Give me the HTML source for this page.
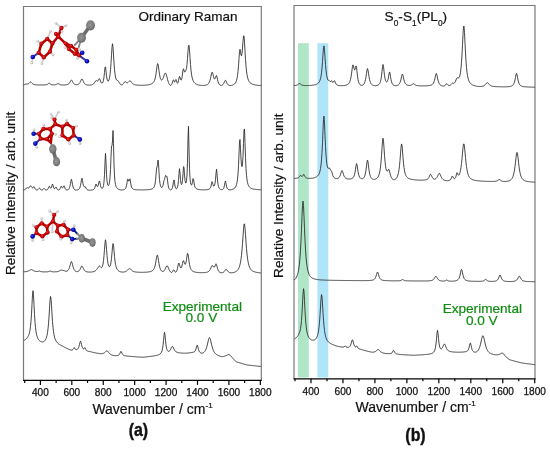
<!DOCTYPE html>
<html><head><meta charset="utf-8"><style>
html,body{margin:0;padding:0;background:#fff;width:550px;height:449px;overflow:hidden}
svg{display:block}
</style></head><body>
<svg width="550" height="449" viewBox="0 0 550 449">
<defs>
<radialGradient id="gR" cx="0.4" cy="0.38" r="0.65"><stop offset="0" stop-color="#e83434"/><stop offset="0.55" stop-color="#c80404"/><stop offset="1" stop-color="#960000"/></radialGradient>
<radialGradient id="gW" cx="0.4" cy="0.38" r="0.65"><stop offset="0" stop-color="#f4f4f4"/><stop offset="1" stop-color="#a8a8a8"/></radialGradient>
<radialGradient id="gB" cx="0.4" cy="0.38" r="0.65"><stop offset="0" stop-color="#3848f0"/><stop offset="0.55" stop-color="#0808c0"/><stop offset="1" stop-color="#000080"/></radialGradient>
<radialGradient id="gG" cx="0.45" cy="0.45" r="0.6"><stop offset="0" stop-color="#969696"/><stop offset="0.72" stop-color="#7a7a7a"/><stop offset="1" stop-color="#4a4a4a"/></radialGradient>
</defs>
<rect width="550" height="449" fill="#fff"/>
<!-- bands -->
<rect x="298" y="43.2" width="10.8" height="334.3" fill="#b0e6c8"/>
<rect x="317.4" y="43.2" width="10.9" height="334.3" fill="#b0e4f8"/>
<!-- frames -->
<path d="M23.5,380 V6.5 H261.3 V380" fill="none" stroke="#7a7a7a" stroke-width="1.2"/>
<path d="M294,378.8 V5.5 H535 V378.8" fill="none" stroke="#7a7a7a" stroke-width="1.2"/>
<line x1="23.0" y1="380.4" x2="261.8" y2="380.4" stroke="#000" stroke-width="1.35"/>
<line x1="24.69" y1="380.4" x2="24.69" y2="382.9" stroke="#000" stroke-width="1.2"/>
<line x1="40.40" y1="380.4" x2="40.40" y2="384.9" stroke="#000" stroke-width="1.2"/>
<line x1="56.11" y1="380.4" x2="56.11" y2="382.9" stroke="#000" stroke-width="1.2"/>
<line x1="71.82" y1="380.4" x2="71.82" y2="384.9" stroke="#000" stroke-width="1.2"/>
<line x1="87.53" y1="380.4" x2="87.53" y2="382.9" stroke="#000" stroke-width="1.2"/>
<line x1="103.24" y1="380.4" x2="103.24" y2="384.9" stroke="#000" stroke-width="1.2"/>
<line x1="118.95" y1="380.4" x2="118.95" y2="382.9" stroke="#000" stroke-width="1.2"/>
<line x1="134.66" y1="380.4" x2="134.66" y2="384.9" stroke="#000" stroke-width="1.2"/>
<line x1="150.37" y1="380.4" x2="150.37" y2="382.9" stroke="#000" stroke-width="1.2"/>
<line x1="166.08" y1="380.4" x2="166.08" y2="384.9" stroke="#000" stroke-width="1.2"/>
<line x1="181.79" y1="380.4" x2="181.79" y2="382.9" stroke="#000" stroke-width="1.2"/>
<line x1="197.50" y1="380.4" x2="197.50" y2="384.9" stroke="#000" stroke-width="1.2"/>
<line x1="213.21" y1="380.4" x2="213.21" y2="382.9" stroke="#000" stroke-width="1.2"/>
<line x1="228.92" y1="380.4" x2="228.92" y2="384.9" stroke="#000" stroke-width="1.2"/>
<line x1="244.63" y1="380.4" x2="244.63" y2="382.9" stroke="#000" stroke-width="1.2"/>
<line x1="260.34" y1="380.4" x2="260.34" y2="384.9" stroke="#000" stroke-width="1.2"/>
<line x1="293.5" y1="378.8" x2="535.5" y2="378.8" stroke="#000" stroke-width="1.35"/>
<line x1="295.02" y1="378.8" x2="295.02" y2="381.3" stroke="#000" stroke-width="1.2"/>
<line x1="311.00" y1="378.8" x2="311.00" y2="383.3" stroke="#000" stroke-width="1.2"/>
<line x1="326.98" y1="378.8" x2="326.98" y2="381.3" stroke="#000" stroke-width="1.2"/>
<line x1="342.96" y1="378.8" x2="342.96" y2="383.3" stroke="#000" stroke-width="1.2"/>
<line x1="358.94" y1="378.8" x2="358.94" y2="381.3" stroke="#000" stroke-width="1.2"/>
<line x1="374.92" y1="378.8" x2="374.92" y2="383.3" stroke="#000" stroke-width="1.2"/>
<line x1="390.90" y1="378.8" x2="390.90" y2="381.3" stroke="#000" stroke-width="1.2"/>
<line x1="406.88" y1="378.8" x2="406.88" y2="383.3" stroke="#000" stroke-width="1.2"/>
<line x1="422.86" y1="378.8" x2="422.86" y2="381.3" stroke="#000" stroke-width="1.2"/>
<line x1="438.84" y1="378.8" x2="438.84" y2="383.3" stroke="#000" stroke-width="1.2"/>
<line x1="454.82" y1="378.8" x2="454.82" y2="381.3" stroke="#000" stroke-width="1.2"/>
<line x1="470.80" y1="378.8" x2="470.80" y2="383.3" stroke="#000" stroke-width="1.2"/>
<line x1="486.78" y1="378.8" x2="486.78" y2="381.3" stroke="#000" stroke-width="1.2"/>
<line x1="502.76" y1="378.8" x2="502.76" y2="383.3" stroke="#000" stroke-width="1.2"/>
<line x1="518.74" y1="378.8" x2="518.74" y2="381.3" stroke="#000" stroke-width="1.2"/>
<line x1="534.72" y1="378.8" x2="534.72" y2="383.3" stroke="#000" stroke-width="1.2"/>
<g fill="none" stroke="#262626" stroke-width="0.85" stroke-linejoin="round">
<path d="M23.50,84.89 L24.00,84.78 L24.50,84.63 L25.00,84.42 L25.50,84.17 L26.00,84.00 L26.50,84.01 L27.00,84.08 L27.50,84.09 L28.00,83.97 L28.50,83.72 L29.00,83.33 L29.50,82.79 L30.00,82.23 L30.50,81.91 L31.00,82.07 L31.50,82.59 L32.00,83.18 L32.50,83.67 L33.00,84.04 L33.50,84.29 L34.00,84.48 L34.50,84.60 L35.00,84.69 L35.50,84.76 L36.00,84.81 L36.50,84.84 L37.00,84.87 L37.50,84.90 L38.00,84.91 L38.50,84.93 L39.00,84.94 L39.50,84.95 L40.00,84.95 L40.50,84.96 L41.00,84.96 L41.50,84.96 L42.00,84.96 L42.50,84.95 L43.00,84.94 L43.50,84.93 L44.00,84.91 L44.50,84.89 L45.00,84.86 L45.50,84.82 L46.00,84.75 L46.50,84.66 L47.00,84.50 L47.50,84.26 L48.00,83.90 L48.50,83.42 L49.00,83.04 L49.50,83.10 L50.00,83.54 L50.50,84.00 L51.00,84.35 L51.50,84.58 L52.00,84.72 L52.50,84.80 L53.00,84.85 L53.50,84.87 L54.00,84.87 L54.50,84.84 L55.00,84.78 L55.50,84.67 L56.00,84.52 L56.50,84.29 L57.00,84.00 L57.50,83.72 L58.00,83.61 L58.50,83.74 L59.00,84.03 L59.50,84.34 L60.00,84.58 L60.50,84.75 L61.00,84.86 L61.50,84.94 L62.00,84.99 L62.50,85.01 L63.00,85.03 L63.50,85.02 L64.00,85.01 L64.50,84.99 L65.00,84.96 L65.50,84.91 L66.00,84.85 L66.50,84.77 L67.00,84.66 L67.50,84.51 L68.00,84.31 L68.50,84.02 L69.00,83.59 L69.50,82.98 L70.00,82.15 L70.50,81.15 L71.00,80.28 L71.50,80.03 L72.00,80.61 L72.50,81.61 L73.00,82.58 L73.50,83.34 L74.00,83.88 L74.50,84.24 L75.00,84.49 L75.50,84.64 L76.00,84.72 L76.50,84.75 L77.00,84.72 L77.50,84.63 L78.00,84.47 L78.50,84.21 L79.00,83.83 L79.50,83.27 L80.00,82.48 L80.50,81.45 L81.00,80.24 L81.50,79.22 L82.00,78.94 L82.50,79.58 L83.00,80.73 L83.50,81.90 L84.00,82.86 L84.50,83.56 L85.00,84.07 L85.50,84.42 L86.00,84.67 L86.50,84.84 L87.00,84.96 L87.50,85.04 L88.00,85.09 L88.50,85.12 L89.00,85.12 L89.50,85.11 L90.00,85.08 L90.50,85.02 L91.00,84.94 L91.50,84.84 L92.00,84.69 L92.50,84.50 L93.00,84.23 L93.50,83.86 L94.00,83.35 L94.50,82.67 L95.00,81.83 L95.50,81.00 L96.00,80.53 L96.50,80.64 L97.00,81.00 L97.50,81.14 L98.00,80.77 L98.50,79.87 L99.00,78.83 L99.50,78.61 L100.00,79.65 L100.50,81.14 L101.00,82.33 L101.50,83.01 L102.00,83.19 L102.50,82.87 L103.00,81.96 L103.50,80.19 L104.00,77.09 L104.50,72.39 L105.00,67.57 L105.50,66.89 L106.00,71.08 L106.50,75.82 L107.00,79.01 L107.50,80.69 L108.00,81.24 L108.50,80.92 L109.00,79.79 L109.50,77.74 L110.00,74.52 L110.50,69.81 L111.00,63.28 L111.50,55.14 L112.00,47.28 L112.50,43.76 L113.00,47.16 L113.50,54.91 L114.00,62.94 L114.50,69.35 L115.00,73.92 L115.50,76.99 L116.00,78.91 L116.50,79.97 L117.00,80.39 L117.50,80.47 L118.00,80.66 L118.50,81.33 L119.00,82.28 L119.50,83.19 L120.00,83.90 L120.50,84.38 L121.00,84.68 L121.50,84.81 L122.00,84.78 L122.50,84.59 L123.00,84.21 L123.50,83.61 L124.00,82.82 L124.50,82.03 L125.00,81.58 L125.50,81.73 L126.00,82.21 L126.50,82.65 L127.00,82.85 L127.50,82.77 L128.00,82.45 L128.50,81.93 L129.00,81.34 L129.50,80.88 L130.00,80.76 L130.50,81.07 L131.00,81.67 L131.50,82.35 L132.00,82.97 L132.50,83.47 L133.00,83.87 L133.50,84.19 L134.00,84.43 L134.50,84.62 L135.00,84.77 L135.50,84.88 L136.00,84.97 L136.50,85.05 L137.00,85.11 L137.50,85.16 L138.00,85.20 L138.50,85.23 L139.00,85.26 L139.50,85.28 L140.00,85.29 L140.50,85.30 L141.00,85.30 L141.50,85.30 L142.00,85.30 L142.50,85.29 L143.00,85.27 L143.50,85.25 L144.00,85.23 L144.50,85.21 L145.00,85.17 L145.50,85.14 L146.00,85.10 L146.50,85.05 L147.00,85.00 L147.50,84.94 L148.00,84.87 L148.50,84.79 L149.00,84.69 L149.50,84.59 L150.00,84.46 L150.50,84.31 L151.00,84.13 L151.50,83.91 L152.00,83.64 L152.50,83.29 L153.00,82.86 L153.50,82.28 L154.00,81.51 L154.50,80.45 L155.00,78.98 L155.50,76.87 L156.00,73.94 L156.50,70.21 L157.00,66.28 L157.50,63.67 L158.00,63.98 L158.50,66.98 L159.00,70.89 L159.50,74.37 L160.00,76.96 L160.50,78.68 L161.00,79.68 L161.50,80.08 L162.00,79.98 L162.50,79.44 L163.00,78.49 L163.50,77.21 L164.00,75.74 L164.50,74.31 L165.00,73.30 L165.50,73.07 L166.00,73.79 L166.50,75.29 L167.00,77.23 L167.50,79.23 L168.00,81.05 L168.50,82.58 L169.00,83.77 L169.50,84.59 L170.00,85.13 L170.50,85.38 L171.00,85.27 L171.50,84.71 L172.00,83.60 L172.50,81.93 L173.00,80.24 L173.50,79.87 L174.00,80.94 L174.50,81.90 L175.00,81.70 L175.50,80.35 L176.00,79.46 L176.50,80.76 L177.00,82.59 L177.50,83.32 L178.00,82.71 L178.50,80.75 L179.00,78.03 L179.50,76.39 L180.00,77.27 L180.50,79.17 L181.00,80.21 L181.50,79.73 L182.00,77.58 L182.50,73.90 L183.00,70.03 L183.50,68.75 L184.00,70.39 L184.50,71.99 L185.00,71.89 L185.50,70.86 L186.00,70.08 L186.50,68.34 L187.00,64.44 L187.50,58.39 L188.00,51.24 L188.50,45.69 L189.00,45.14 L189.50,50.07 L190.00,57.49 L190.50,64.51 L191.00,70.06 L191.50,74.11 L192.00,76.97 L192.50,78.93 L193.00,80.35 L193.50,81.40 L194.00,82.20 L194.50,82.81 L195.00,83.30 L195.50,83.69 L196.00,84.01 L196.50,84.27 L197.00,84.49 L197.50,84.68 L198.00,84.83 L198.50,84.96 L199.00,85.08 L199.50,85.17 L200.00,85.25 L200.50,85.32 L201.00,85.37 L201.50,85.41 L202.00,85.44 L202.50,85.45 L203.00,85.46 L203.50,85.44 L204.00,85.41 L204.50,85.36 L205.00,85.30 L205.50,85.21 L206.00,85.09 L206.50,84.93 L207.00,84.73 L207.50,84.46 L208.00,84.09 L208.50,83.56 L209.00,82.82 L209.50,81.77 L210.00,80.32 L210.50,78.37 L211.00,75.97 L211.50,73.58 L212.00,72.19 L212.50,72.62 L213.00,74.45 L213.50,76.54 L214.00,78.13 L214.50,78.91 L215.00,78.78 L215.50,77.73 L216.00,76.17 L216.50,75.52 L217.00,76.98 L217.50,79.43 L218.00,81.56 L218.50,83.05 L219.00,84.03 L219.50,84.65 L220.00,85.05 L220.50,85.28 L221.00,85.38 L221.50,85.37 L222.00,85.23 L222.50,84.95 L223.00,84.49 L223.50,83.81 L224.00,82.85 L224.50,81.68 L225.00,80.64 L225.50,80.34 L226.00,80.99 L226.50,82.13 L227.00,83.22 L227.50,84.07 L228.00,84.66 L228.50,85.05 L229.00,85.30 L229.50,85.44 L230.00,85.51 L230.50,85.52 L231.00,85.49 L231.50,85.41 L232.00,85.29 L232.50,85.14 L233.00,84.93 L233.50,84.67 L234.00,84.35 L234.50,83.95 L235.00,83.43 L235.50,82.75 L236.00,81.80 L236.50,80.45 L237.00,78.52 L237.50,75.73 L238.00,71.65 L238.50,65.88 L239.00,58.52 L239.50,51.65 L240.00,49.28 L240.50,51.82 L241.00,55.03 L241.50,55.84 L242.00,53.48 L242.50,48.18 L243.00,41.25 L243.50,35.87 L244.00,35.96 L244.50,42.12 L245.00,50.99 L245.50,59.37 L246.00,66.05 L246.50,71.00 L247.00,74.58 L247.50,77.16 L248.00,79.02 L248.50,80.38 L249.00,81.38 L249.50,82.11 L250.00,82.66 L250.50,83.10 L251.00,83.45 L251.50,83.75 L252.00,83.99 L252.50,84.20 L253.00,84.38 L253.50,84.53 L254.00,84.66 L254.50,84.78 L255.00,84.88 L255.50,84.97 L256.00,85.06 L256.50,85.13 L257.00,85.20 L257.50,85.26 L258.00,85.32 L258.50,85.37 L259.00,85.42 L259.50,85.47 L260.00,85.52 L260.50,85.56 L261.00,85.60"/>
<path d="M23.50,190.00 L24.00,189.90 L24.50,189.75 L25.00,189.54 L25.50,189.20 L26.00,188.66 L26.50,187.97 L27.00,187.51 L27.50,187.67 L28.00,188.02 L28.50,188.10 L29.00,187.80 L29.50,187.14 L30.00,186.28 L30.50,185.73 L31.00,185.99 L31.50,186.79 L32.00,187.53 L32.50,187.87 L33.00,187.68 L33.50,186.97 L34.00,186.51 L34.50,187.36 L35.00,188.51 L35.50,189.27 L36.00,189.68 L36.50,189.89 L37.00,189.96 L37.50,189.89 L38.00,189.64 L38.50,189.10 L39.00,188.28 L39.50,187.95 L40.00,188.64 L40.50,189.40 L41.00,189.84 L41.50,190.02 L42.00,190.03 L42.50,189.85 L43.00,189.41 L43.50,188.70 L44.00,188.22 L44.50,188.69 L45.00,189.40 L45.50,189.82 L46.00,190.00 L46.50,190.01 L47.00,189.87 L47.50,189.54 L48.00,188.87 L48.50,187.72 L49.00,186.43 L49.50,186.48 L50.00,187.54 L50.50,188.17 L51.00,188.04 L51.50,187.06 L52.00,185.25 L52.50,184.02 L53.00,185.32 L53.50,187.22 L54.00,188.33 L54.50,188.69 L55.00,188.41 L55.50,187.58 L56.00,187.02 L56.50,187.81 L57.00,188.91 L57.50,189.60 L58.00,189.93 L58.50,190.02 L59.00,189.93 L59.50,189.60 L60.00,188.90 L60.50,187.65 L61.00,186.25 L61.50,186.29 L62.00,187.41 L62.50,187.99 L63.00,187.66 L63.50,186.51 L64.00,185.72 L64.50,186.77 L65.00,188.29 L65.50,189.24 L66.00,189.74 L66.50,189.96 L67.00,190.01 L67.50,189.94 L68.00,189.75 L68.50,189.40 L69.00,188.80 L69.50,187.79 L70.00,186.11 L70.50,183.49 L71.00,180.39 L71.50,179.29 L72.00,181.56 L72.50,184.63 L73.00,186.85 L73.50,188.22 L74.00,189.03 L74.50,189.51 L75.00,189.80 L75.50,189.97 L76.00,190.05 L76.50,190.07 L77.00,190.04 L77.50,189.95 L78.00,189.78 L78.50,189.51 L79.00,189.09 L79.50,188.42 L80.00,187.32 L80.50,185.52 L81.00,182.71 L81.50,179.40 L82.00,178.17 L82.50,180.49 L83.00,183.59 L83.50,185.68 L84.00,186.68 L84.50,186.77 L85.00,186.46 L85.50,186.93 L86.00,188.07 L86.50,188.95 L87.00,189.47 L87.50,189.77 L88.00,189.94 L88.50,190.05 L89.00,190.12 L89.50,190.16 L90.00,190.17 L90.50,190.17 L91.00,190.14 L91.50,190.09 L92.00,190.01 L92.50,189.90 L93.00,189.73 L93.50,189.48 L94.00,189.07 L94.50,188.38 L95.00,187.18 L95.50,185.32 L96.00,184.01 L96.50,184.93 L97.00,186.27 L97.50,186.65 L98.00,185.94 L98.50,184.14 L99.00,181.78 L99.50,180.99 L100.00,182.96 L100.50,185.50 L101.00,187.26 L101.50,188.19 L102.00,188.49 L102.50,188.26 L103.00,187.40 L103.50,185.58 L104.00,181.95 L104.50,174.78 L105.00,162.47 L105.50,153.41 L106.00,162.19 L106.50,174.19 L107.00,181.01 L107.50,184.20 L108.00,185.45 L108.50,185.51 L109.00,184.54 L109.50,182.23 L110.00,177.77 L110.50,169.62 L111.00,156.82 L111.50,146.01 L112.00,145.51 L112.50,141.01 L113.00,130.50 L113.50,143.77 L114.00,164.46 L114.50,175.97 L115.00,181.63 L115.50,184.61 L116.00,186.34 L116.50,187.42 L117.00,188.13 L117.50,188.64 L118.00,189.01 L118.50,189.29 L119.00,189.51 L119.50,189.67 L120.00,189.79 L120.50,189.87 L121.00,189.93 L121.50,189.95 L122.00,189.95 L122.50,189.92 L123.00,189.86 L123.50,189.75 L124.00,189.59 L124.50,189.35 L125.00,188.98 L125.50,188.39 L126.00,187.39 L126.50,185.62 L127.00,182.67 L127.50,179.32 L128.00,179.06 L128.50,180.91 L129.00,181.15 L129.50,179.43 L130.00,178.92 L130.50,181.88 L131.00,185.01 L131.50,186.94 L132.00,188.02 L132.50,188.64 L133.00,189.02 L133.50,189.26 L134.00,189.42 L134.50,189.54 L135.00,189.62 L135.50,189.69 L136.00,189.74 L136.50,189.78 L137.00,189.81 L137.50,189.83 L138.00,189.85 L138.50,189.87 L139.00,189.88 L139.50,189.88 L140.00,189.89 L140.50,189.89 L141.00,189.90 L141.50,189.90 L142.00,189.90 L142.50,189.89 L143.00,189.89 L143.50,189.88 L144.00,189.87 L144.50,189.86 L145.00,189.84 L145.50,189.82 L146.00,189.80 L146.50,189.78 L147.00,189.75 L147.50,189.72 L148.00,189.68 L148.50,189.64 L149.00,189.59 L149.50,189.53 L150.00,189.46 L150.50,189.37 L151.00,189.26 L151.50,189.12 L152.00,188.94 L152.50,188.70 L153.00,188.37 L153.50,187.91 L154.00,187.23 L154.50,186.15 L155.00,184.23 L155.50,180.80 L156.00,175.14 L156.50,169.00 L157.00,166.78 L157.50,164.47 L158.00,160.12 L158.50,163.19 L159.00,172.47 L159.50,179.55 L160.00,183.60 L160.50,185.80 L161.00,186.96 L161.50,187.50 L162.00,187.51 L162.50,186.93 L163.00,185.48 L163.50,182.94 L164.00,180.41 L164.50,179.35 L165.00,177.51 L165.50,175.51 L166.00,176.15 L166.50,176.33 L167.00,176.42 L167.50,180.09 L168.00,184.37 L168.50,187.08 L169.00,188.54 L169.50,189.31 L170.00,189.72 L170.50,189.87 L171.00,189.82 L171.50,189.51 L172.00,188.84 L172.50,187.51 L173.00,185.01 L173.50,181.42 L174.00,179.92 L174.50,182.80 L175.00,186.00 L175.50,187.83 L176.00,188.63 L176.50,188.74 L177.00,188.28 L177.50,187.14 L178.00,184.80 L178.50,180.34 L179.00,173.38 L179.50,168.72 L180.00,173.11 L180.50,179.66 L181.00,183.44 L181.50,184.64 L182.00,183.72 L182.50,180.39 L183.00,173.94 L183.50,166.63 L184.00,167.56 L184.50,174.96 L185.00,180.44 L185.50,182.86 L186.00,182.96 L186.50,180.78 L187.00,175.04 L187.50,162.13 L188.00,138.36 L188.50,126.31 L189.00,148.96 L189.50,168.65 L190.00,178.26 L190.50,182.66 L191.00,184.60 L191.50,185.05 L192.00,184.10 L192.50,181.56 L193.00,178.56 L193.50,179.19 L194.00,182.71 L194.50,185.44 L195.00,187.02 L195.50,187.92 L196.00,188.46 L196.50,188.81 L197.00,189.06 L197.50,189.24 L198.00,189.37 L198.50,189.48 L199.00,189.56 L199.50,189.63 L200.00,189.68 L200.50,189.73 L201.00,189.76 L201.50,189.79 L202.00,189.81 L202.50,189.83 L203.00,189.84 L203.50,189.85 L204.00,189.85 L204.50,189.84 L205.00,189.83 L205.50,189.81 L206.00,189.78 L206.50,189.74 L207.00,189.69 L207.50,189.62 L208.00,189.52 L208.50,189.39 L209.00,189.21 L209.50,188.93 L210.00,188.46 L210.50,187.64 L211.00,186.17 L211.50,183.78 L212.00,181.61 L212.50,182.43 L213.00,184.62 L213.50,185.93 L214.00,186.18 L214.50,185.47 L215.00,183.50 L215.50,179.57 L216.00,173.36 L216.50,169.30 L217.00,173.56 L217.50,179.99 L218.00,184.20 L218.50,186.55 L219.00,187.86 L219.50,188.64 L220.00,189.12 L220.50,189.42 L221.00,189.60 L221.50,189.68 L222.00,189.66 L222.50,189.52 L223.00,189.21 L223.50,188.59 L224.00,187.41 L224.50,185.27 L225.00,182.24 L225.50,180.99 L226.00,183.45 L226.50,186.23 L227.00,187.93 L227.50,188.84 L228.00,189.33 L228.50,189.60 L229.00,189.74 L229.50,189.81 L230.00,189.83 L230.50,189.80 L231.00,189.74 L231.50,189.64 L232.00,189.52 L232.50,189.36 L233.00,189.16 L233.50,188.91 L234.00,188.60 L234.50,188.21 L235.00,187.70 L235.50,187.00 L236.00,186.00 L236.50,184.57 L237.00,182.46 L237.50,179.19 L238.00,174.02 L238.50,165.83 L239.00,153.98 L239.50,141.82 L240.00,139.54 L240.50,148.78 L241.00,159.05 L241.50,165.11 L242.00,166.67 L242.50,163.89 L243.00,156.26 L243.50,143.47 L244.00,130.05 L244.50,128.95 L245.00,142.42 L245.50,157.64 L246.00,168.54 L246.50,175.45 L247.00,179.75 L247.50,182.51 L248.00,184.34 L248.50,185.59 L249.00,186.48 L249.50,187.10 L250.00,187.56 L250.50,187.92 L251.00,188.21 L251.50,188.44 L252.00,188.63 L252.50,188.79 L253.00,188.92 L253.50,189.04 L254.00,189.14 L254.50,189.22 L255.00,189.30 L255.50,189.36 L256.00,189.42 L256.50,189.47 L257.00,189.52 L257.50,189.57 L258.00,189.61 L258.50,189.65 L259.00,189.68 L259.50,189.71 L260.00,189.74 L260.50,189.77 L261.00,189.80"/>
<path d="M23.50,271.80 L24.00,271.77 L24.50,271.74 L25.00,271.71 L25.50,271.66 L26.00,271.61 L26.50,271.54 L27.00,271.45 L27.50,271.34 L28.00,271.18 L28.50,270.98 L29.00,270.74 L29.50,270.45 L30.00,270.13 L30.50,269.83 L31.00,269.64 L31.50,269.62 L32.00,269.78 L32.50,270.06 L33.00,270.38 L33.50,270.67 L34.00,270.93 L34.50,271.13 L35.00,271.29 L35.50,271.40 L36.00,271.49 L36.50,271.54 L37.00,271.55 L37.50,271.52 L38.00,271.43 L38.50,271.27 L39.00,271.07 L39.50,271.01 L40.00,271.19 L40.50,271.43 L41.00,271.60 L41.50,271.71 L42.00,271.78 L42.50,271.82 L43.00,271.85 L43.50,271.87 L44.00,271.88 L44.50,271.89 L45.00,271.89 L45.50,271.89 L46.00,271.88 L46.50,271.86 L47.00,271.83 L47.50,271.79 L48.00,271.71 L48.50,271.58 L49.00,271.39 L49.50,271.14 L50.00,271.00 L50.50,271.14 L51.00,271.39 L51.50,271.58 L52.00,271.71 L52.50,271.78 L53.00,271.82 L53.50,271.84 L54.00,271.85 L54.50,271.85 L55.00,271.83 L55.50,271.81 L56.00,271.78 L56.50,271.74 L57.00,271.69 L57.50,271.61 L58.00,271.51 L58.50,271.37 L59.00,271.18 L59.50,270.92 L60.00,270.61 L60.50,270.28 L61.00,270.04 L61.50,270.04 L62.00,270.22 L62.50,270.43 L63.00,270.53 L63.50,270.50 L64.00,270.52 L64.50,270.75 L65.00,271.04 L65.50,271.23 L66.00,271.28 L66.50,271.23 L67.00,271.07 L67.50,270.78 L68.00,270.33 L68.50,269.66 L69.00,268.71 L69.50,267.38 L70.00,265.64 L70.50,263.66 L71.00,262.01 L71.50,261.56 L72.00,262.65 L72.50,264.59 L73.00,266.57 L73.50,268.18 L74.00,269.38 L74.50,270.22 L75.00,270.80 L75.50,271.19 L76.00,271.44 L76.50,271.58 L77.00,271.62 L77.50,271.58 L78.00,271.45 L78.50,271.20 L79.00,270.82 L79.50,270.25 L80.00,269.46 L80.50,268.42 L81.00,267.23 L81.50,266.22 L82.00,265.93 L82.50,266.54 L83.00,267.66 L83.50,268.80 L84.00,269.73 L84.50,270.43 L85.00,270.93 L85.50,271.28 L86.00,271.52 L86.50,271.70 L87.00,271.83 L87.50,271.93 L88.00,271.99 L88.50,272.04 L89.00,272.07 L89.50,272.08 L90.00,272.08 L90.50,272.07 L91.00,272.04 L91.50,271.99 L92.00,271.94 L92.50,271.86 L93.00,271.77 L93.50,271.65 L94.00,271.50 L94.50,271.30 L95.00,271.03 L95.50,270.68 L96.00,270.21 L96.50,269.63 L97.00,269.02 L97.50,268.43 L98.00,267.74 L98.50,266.92 L99.00,266.19 L99.50,265.95 L100.00,266.34 L100.50,267.02 L101.00,267.56 L101.50,267.68 L102.00,267.27 L102.50,266.11 L103.00,264.01 L103.50,260.66 L104.00,255.74 L104.50,249.29 L105.00,242.77 L105.50,239.76 L106.00,242.68 L106.50,249.11 L107.00,255.47 L107.50,260.29 L108.00,263.53 L108.50,265.51 L109.00,266.52 L109.50,266.74 L110.00,266.18 L110.50,264.75 L111.00,262.22 L111.50,258.31 L112.00,252.95 L112.50,247.08 L113.00,243.55 L113.50,245.14 L114.00,250.51 L114.50,256.35 L115.00,261.00 L115.50,264.30 L116.00,266.53 L116.50,268.02 L117.00,269.07 L117.50,269.82 L118.00,270.39 L118.50,270.82 L119.00,271.15 L119.50,271.42 L120.00,271.62 L120.50,271.78 L121.00,271.90 L121.50,271.99 L122.00,272.04 L122.50,272.08 L123.00,272.08 L123.50,272.06 L124.00,272.01 L124.50,271.92 L125.00,271.79 L125.50,271.61 L126.00,271.38 L126.50,271.07 L127.00,270.68 L127.50,270.20 L128.00,269.66 L128.50,269.11 L129.00,268.68 L129.50,268.51 L130.00,268.66 L130.50,269.07 L131.00,269.59 L131.50,270.11 L132.00,270.57 L132.50,270.94 L133.00,271.24 L133.50,271.46 L134.00,271.63 L134.50,271.77 L135.00,271.88 L135.50,271.96 L136.00,272.03 L136.50,272.09 L137.00,272.14 L137.50,272.18 L138.00,272.21 L138.50,272.24 L139.00,272.26 L139.50,272.28 L140.00,272.29 L140.50,272.30 L141.00,272.31 L141.50,272.31 L142.00,272.31 L142.50,272.30 L143.00,272.30 L143.50,272.29 L144.00,272.27 L144.50,272.26 L145.00,272.24 L145.50,272.21 L146.00,272.18 L146.50,272.15 L147.00,272.11 L147.50,272.06 L148.00,272.01 L148.50,271.94 L149.00,271.87 L149.50,271.78 L150.00,271.67 L150.50,271.54 L151.00,271.38 L151.50,271.18 L152.00,270.93 L152.50,270.60 L153.00,270.17 L153.50,269.59 L154.00,268.77 L154.50,267.61 L155.00,265.97 L155.50,263.72 L156.00,260.85 L156.50,257.71 L157.00,255.37 L157.50,255.19 L158.00,257.34 L158.50,260.58 L159.00,263.70 L159.50,266.21 L160.00,268.07 L160.50,269.40 L161.00,270.33 L161.50,270.95 L162.00,271.32 L162.50,271.49 L163.00,271.47 L163.50,271.26 L164.00,270.85 L164.50,270.20 L165.00,269.33 L165.50,268.26 L166.00,267.11 L166.50,266.15 L167.00,265.72 L167.50,266.00 L168.00,266.92 L168.50,268.14 L169.00,269.39 L169.50,270.48 L170.00,271.35 L170.50,271.97 L171.00,272.36 L171.50,272.48 L172.00,272.30 L172.50,271.74 L173.00,270.78 L173.50,269.87 L174.00,269.99 L174.50,270.95 L175.00,271.79 L175.50,272.15 L176.00,272.03 L176.50,271.44 L177.00,270.24 L177.50,268.34 L178.00,265.82 L178.50,263.53 L179.00,263.01 L179.50,264.48 L180.00,266.39 L180.50,267.66 L181.00,267.99 L181.50,267.37 L182.00,265.80 L182.50,263.43 L183.00,261.17 L183.50,260.61 L184.00,261.94 L184.50,263.60 L185.00,264.42 L185.50,264.05 L186.00,262.43 L186.50,259.57 L187.00,256.00 L187.50,253.41 L188.00,253.90 L188.50,257.19 L189.00,261.13 L189.50,264.40 L190.00,266.75 L190.50,268.36 L191.00,269.41 L191.50,270.16 L192.00,270.69 L192.50,271.08 L193.00,271.38 L193.50,271.62 L194.00,271.81 L194.50,271.96 L195.00,272.08 L195.50,272.19 L196.00,272.27 L196.50,272.35 L197.00,272.41 L197.50,272.46 L198.00,272.51 L198.50,272.55 L199.00,272.58 L199.50,272.60 L200.00,272.63 L200.50,272.64 L201.00,272.65 L201.50,272.66 L202.00,272.65 L202.50,272.65 L203.00,272.64 L203.50,272.62 L204.00,272.59 L204.50,272.55 L205.00,272.51 L205.50,272.45 L206.00,272.38 L206.50,272.29 L207.00,272.17 L207.50,272.02 L208.00,271.82 L208.50,271.54 L209.00,271.15 L209.50,270.60 L210.00,269.84 L210.50,268.83 L211.00,267.59 L211.50,266.35 L212.00,265.57 L212.50,265.63 L213.00,266.31 L213.50,267.01 L214.00,267.31 L214.50,266.99 L215.00,266.00 L215.50,264.61 L216.00,263.79 L216.50,264.59 L217.00,266.52 L217.50,268.44 L218.00,269.91 L218.50,270.93 L219.00,271.61 L219.50,272.07 L220.00,272.38 L220.50,272.59 L221.00,272.71 L221.50,272.76 L222.00,272.74 L222.50,272.64 L223.00,272.46 L223.50,272.16 L224.00,271.74 L224.50,271.15 L225.00,270.43 L225.50,269.72 L226.00,269.33 L226.50,269.50 L227.00,270.11 L227.50,270.85 L228.00,271.48 L228.50,271.97 L229.00,272.31 L229.50,272.54 L230.00,272.68 L230.50,272.76 L231.00,272.79 L231.50,272.79 L232.00,272.76 L232.50,272.69 L233.00,272.61 L233.50,272.50 L234.00,272.36 L234.50,272.20 L235.00,272.01 L235.50,271.78 L236.00,271.51 L236.50,271.18 L237.00,270.80 L237.50,270.30 L238.00,269.66 L238.50,268.84 L239.00,267.77 L239.50,266.40 L240.00,264.61 L240.50,262.27 L241.00,259.21 L241.50,255.20 L242.00,250.05 L242.50,243.67 L243.00,236.35 L243.50,229.20 L244.00,224.31 L244.50,223.80 L245.00,227.90 L245.50,234.75 L246.00,242.12 L246.50,248.69 L247.00,254.04 L247.50,258.22 L248.00,261.42 L248.50,263.85 L249.00,265.70 L249.50,267.12 L250.00,268.20 L250.50,269.04 L251.00,269.69 L251.50,270.19 L252.00,270.58 L252.50,270.91 L253.00,271.19 L253.50,271.42 L254.00,271.63 L254.50,271.80 L255.00,271.96 L255.50,272.10 L256.00,272.22 L256.50,272.33 L257.00,272.43 L257.50,272.52 L258.00,272.61 L258.50,272.68 L259.00,272.75 L259.50,272.82 L260.00,272.88 L260.50,272.94 L261.00,273.00"/>
<path d="M24.00,340.50 L24.50,340.19 L25.00,339.84 L25.50,339.47 L26.00,339.05 L26.50,338.57 L27.00,338.02 L27.50,337.34 L28.00,336.49 L28.50,335.61 L29.00,334.39 L29.50,332.65 L30.00,330.15 L30.50,326.50 L31.00,321.21 L31.50,313.78 L32.00,304.29 L32.50,294.89 L33.00,290.70 L33.50,295.12 L34.00,304.76 L34.50,314.49 L35.00,322.15 L35.50,327.67 L36.00,331.55 L36.50,334.27 L37.00,336.23 L37.50,337.67 L38.00,338.75 L38.50,339.59 L39.00,340.24 L39.50,340.75 L40.00,341.14 L40.50,341.45 L41.00,341.67 L41.50,341.80 L42.00,341.87 L42.50,341.88 L43.00,341.82 L43.50,341.66 L44.00,341.40 L44.50,341.01 L45.00,340.46 L45.50,339.71 L46.00,338.68 L46.50,337.29 L47.00,335.36 L47.50,332.69 L48.00,328.97 L48.50,323.86 L49.00,317.09 L49.50,308.87 L50.00,300.83 L50.50,296.44 L51.00,298.46 L51.50,305.56 L52.00,314.06 L52.50,321.55 L53.00,327.36 L53.50,331.65 L54.00,334.76 L54.50,337.03 L55.00,338.70 L55.50,339.95 L56.00,340.91 L56.50,341.68 L57.00,342.34 L57.50,342.89 L58.00,343.36 L58.50,343.78 L59.00,344.16 L59.50,344.50 L60.00,344.82 L60.50,345.11 L61.00,345.39 L61.50,345.66 L62.00,345.91 L62.50,346.15 L63.00,346.38 L63.50,346.65 L64.00,346.92 L64.50,347.19 L65.00,347.45 L65.50,347.71 L66.00,347.96 L66.50,348.21 L67.00,348.45 L67.50,348.69 L68.00,348.92 L68.50,349.15 L69.00,349.37 L69.50,349.59 L70.00,349.79 L70.50,349.98 L71.00,350.12 L71.50,350.09 L72.00,350.01 L72.50,349.84 L73.00,349.44 L73.50,348.66 L74.00,347.65 L74.50,347.79 L75.00,348.77 L75.50,349.40 L76.00,349.65 L76.50,349.67 L77.00,349.52 L77.50,349.20 L78.00,348.65 L78.50,347.76 L79.00,346.38 L79.50,344.43 L80.00,342.26 L80.50,341.20 L81.00,342.29 L81.50,344.48 L82.00,346.43 L82.50,347.78 L83.00,348.57 L83.50,348.88 L84.00,348.64 L84.50,347.85 L85.00,347.58 L85.50,348.74 L86.00,349.84 L86.50,350.47 L87.00,350.82 L87.50,351.04 L88.00,351.20 L88.50,351.32 L89.00,351.42 L89.50,351.51 L90.00,351.58 L90.50,351.72 L91.00,351.84 L91.50,351.97 L92.00,352.09 L92.50,352.20 L93.00,352.32 L93.50,352.43 L94.00,352.53 L94.50,352.64 L95.00,352.74 L95.50,352.85 L96.00,352.94 L96.50,353.04 L97.00,353.13 L97.50,353.22 L98.00,353.31 L98.50,353.39 L99.00,353.47 L99.50,353.54 L100.00,353.60 L100.50,353.66 L101.00,353.70 L101.50,353.68 L102.00,353.63 L102.50,353.56 L103.00,353.44 L103.50,353.26 L104.00,353.02 L104.50,352.69 L105.00,352.28 L105.50,351.79 L106.00,351.28 L106.50,350.90 L107.00,350.80 L107.50,351.05 L108.00,351.57 L108.50,352.22 L109.00,352.85 L109.50,353.41 L110.00,353.88 L110.50,354.27 L111.00,354.58 L111.50,354.84 L112.00,355.05 L112.50,355.22 L113.00,355.37 L113.50,355.49 L114.00,355.59 L114.50,355.63 L115.00,355.65 L115.50,355.66 L116.00,355.66 L116.50,355.63 L117.00,355.58 L117.50,355.50 L118.00,355.37 L118.50,355.15 L119.00,354.79 L119.50,354.18 L120.00,353.22 L120.50,351.98 L121.00,351.30 L121.50,352.00 L122.00,353.26 L122.50,354.25 L123.00,354.88 L123.50,355.27 L124.00,355.51 L124.50,355.68 L125.00,355.79 L125.50,355.87 L126.00,355.94 L126.50,355.99 L127.00,356.04 L127.50,356.08 L128.00,356.11 L128.50,356.16 L129.00,356.21 L129.50,356.26 L130.00,356.31 L130.50,356.35 L131.00,356.39 L131.50,356.43 L132.00,356.48 L132.50,356.52 L133.00,356.56 L133.50,356.60 L134.00,356.63 L134.50,356.67 L135.00,356.71 L135.50,356.75 L136.00,356.79 L136.50,356.82 L137.00,356.86 L137.50,356.90 L138.00,356.93 L138.50,356.97 L139.00,357.00 L139.50,357.04 L140.00,357.07 L140.50,357.11 L141.00,357.14 L141.50,357.18 L142.00,357.21 L142.50,357.25 L143.00,357.28 L143.50,357.22 L144.00,357.16 L144.50,357.11 L145.00,357.05 L145.50,356.99 L146.00,356.93 L146.50,356.87 L147.00,356.82 L147.50,356.76 L148.00,356.70 L148.50,356.63 L149.00,356.57 L149.50,356.51 L150.00,356.45 L150.50,356.38 L151.00,356.32 L151.50,356.25 L152.00,356.18 L152.50,356.11 L153.00,356.04 L153.50,355.97 L154.00,355.89 L154.50,355.81 L155.00,355.72 L155.50,355.63 L156.00,355.54 L156.50,355.43 L157.00,355.31 L157.50,355.18 L158.00,355.03 L158.50,354.84 L159.00,354.62 L159.50,354.36 L160.00,354.03 L160.50,353.60 L161.00,353.02 L161.50,352.17 L162.00,350.86 L162.50,348.81 L163.00,345.60 L163.50,340.86 L164.00,335.26 L164.50,332.30 L165.00,335.05 L165.50,340.44 L166.00,344.95 L166.50,347.92 L167.00,349.72 L167.50,350.74 L168.00,351.26 L168.50,351.43 L169.00,351.32 L169.50,350.96 L170.00,350.34 L170.50,349.47 L171.00,348.40 L171.50,347.31 L172.00,346.55 L172.50,346.46 L173.00,347.09 L173.50,348.13 L174.00,349.22 L174.50,350.16 L175.00,350.88 L175.50,351.39 L176.00,351.76 L176.50,352.01 L177.00,352.24 L177.50,352.43 L178.00,352.58 L178.50,352.70 L179.00,352.79 L179.50,352.87 L180.00,352.94 L180.50,352.99 L181.00,353.04 L181.50,353.07 L182.00,353.11 L182.50,353.13 L183.00,353.15 L183.50,353.17 L184.00,353.18 L184.50,353.19 L185.00,353.20 L185.50,353.20 L186.00,353.20 L186.50,353.16 L187.00,353.12 L187.50,353.07 L188.00,353.02 L188.50,352.97 L189.00,352.91 L189.50,352.85 L190.00,352.78 L190.50,352.71 L191.00,352.62 L191.50,352.52 L192.00,352.41 L192.50,352.36 L193.00,352.29 L193.50,352.17 L194.00,351.97 L194.50,351.65 L195.00,351.11 L195.50,350.20 L196.00,348.76 L196.50,346.80 L197.00,345.17 L197.50,345.47 L198.00,347.43 L198.50,349.45 L199.00,350.91 L199.50,351.84 L200.00,352.43 L200.50,352.79 L201.00,353.00 L201.50,353.11 L202.00,353.14 L202.50,353.08 L203.00,352.92 L203.50,352.67 L204.00,352.31 L204.50,351.81 L205.00,351.14 L205.50,350.27 L206.00,349.16 L206.50,347.76 L207.00,346.04 L207.50,344.02 L208.00,341.82 L208.50,339.70 L209.00,338.10 L209.50,337.50 L210.00,338.13 L210.50,339.76 L211.00,341.93 L211.50,344.20 L212.00,346.29 L212.50,348.09 L213.00,349.59 L213.50,350.80 L214.00,351.78 L214.50,352.56 L215.00,353.20 L215.50,353.71 L216.00,354.12 L216.50,354.46 L217.00,354.74 L217.50,355.04 L218.00,355.31 L218.50,355.56 L219.00,355.78 L219.50,355.98 L220.00,356.16 L220.50,356.33 L221.00,356.47 L221.50,356.60 L222.00,356.71 L222.50,356.65 L223.00,356.57 L223.50,356.48 L224.00,356.35 L224.50,356.20 L225.00,356.01 L225.50,355.78 L226.00,355.49 L226.50,355.36 L227.00,355.17 L227.50,354.95 L228.00,354.72 L228.50,354.57 L229.00,354.58 L229.50,354.79 L230.00,355.18 L230.50,355.69 L231.00,356.22 L231.50,356.73 L232.00,357.19 L232.50,357.86 L233.00,358.49 L233.50,359.07 L234.00,359.62 L234.50,360.15 L235.00,360.67 L235.50,361.16 L236.00,361.65 L236.50,361.83 L237.00,362.00 L237.50,362.16 L238.00,362.32 L238.50,362.48 L239.00,362.64 L239.50,362.79 L240.00,362.94 L240.50,363.09 L241.00,363.23 L241.50,363.38 L242.00,363.52 L242.50,363.67 L243.00,363.81 L243.50,363.95 L244.00,364.10 L244.50,364.24 L245.00,364.38 L245.50,364.52 L246.00,364.66 L246.50,364.80 L247.00,364.94 L247.50,365.00 L248.00,365.05 L248.50,365.11 L249.00,365.16 L249.50,365.22 L250.00,365.28 L250.50,365.33 L251.00,365.39 L251.50,365.44 L252.00,365.50 L252.50,365.56 L253.00,365.61 L253.50,365.67 L254.00,365.72 L254.50,365.78 L255.00,365.83 L255.50,365.89 L256.00,365.95 L256.50,366.00 L257.00,366.06 L257.50,366.11 L258.00,366.17 L258.50,366.22 L259.00,366.28 L259.50,366.33 L260.00,366.39 L260.50,366.44 L261.00,366.50"/>
<path d="M294.00,85.60 L294.50,85.56 L295.00,85.51 L295.50,85.45 L296.00,85.36 L296.50,85.24 L297.00,85.07 L297.50,84.82 L298.00,84.49 L298.50,84.08 L299.00,83.68 L299.50,83.50 L300.00,83.68 L300.50,84.07 L301.00,84.48 L301.50,84.81 L302.00,85.05 L302.50,85.22 L303.00,85.34 L303.50,85.42 L304.00,85.48 L304.50,85.51 L305.00,85.54 L305.50,85.56 L306.00,85.57 L306.50,85.57 L307.00,85.57 L307.50,85.56 L308.00,85.55 L308.50,85.54 L309.00,85.52 L309.50,85.49 L310.00,85.46 L310.50,85.42 L311.00,85.38 L311.50,85.33 L312.00,85.28 L312.50,85.22 L313.00,85.15 L313.50,85.08 L314.00,84.99 L314.50,84.89 L315.00,84.77 L315.50,84.63 L316.00,84.46 L316.50,84.26 L317.00,84.02 L317.50,83.72 L318.00,83.35 L318.50,82.88 L319.00,82.27 L319.50,81.44 L320.00,80.28 L320.50,78.63 L321.00,76.27 L321.50,72.86 L322.00,68.07 L322.50,61.68 L323.00,54.18 L323.50,47.72 L324.00,45.85 L324.50,49.93 L325.00,57.18 L325.50,64.35 L326.00,70.06 L326.50,74.21 L327.00,77.07 L327.50,78.94 L328.00,80.00 L328.50,80.37 L329.00,80.42 L329.50,80.82 L330.00,81.41 L330.50,81.49 L331.00,80.96 L331.50,80.61 L332.00,81.32 L332.50,82.24 L333.00,82.52 L333.50,82.01 L334.00,80.99 L334.50,80.67 L335.00,81.74 L335.50,83.06 L336.00,83.99 L336.50,84.57 L337.00,84.94 L337.50,85.17 L338.00,85.33 L338.50,85.45 L339.00,85.53 L339.50,85.59 L340.00,85.64 L340.50,85.66 L341.00,85.68 L341.50,85.68 L342.00,85.67 L342.50,85.65 L343.00,85.62 L343.50,85.57 L344.00,85.52 L344.50,85.45 L345.00,85.36 L345.50,85.25 L346.00,85.12 L346.50,84.96 L347.00,84.76 L347.50,84.51 L348.00,84.18 L348.50,83.76 L349.00,83.17 L349.50,82.33 L350.00,81.15 L350.50,79.45 L351.00,77.06 L351.50,73.83 L352.00,69.91 L352.50,66.32 L353.00,64.85 L353.50,66.09 L354.00,68.41 L354.50,69.89 L355.00,69.60 L355.50,67.65 L356.00,65.90 L356.50,67.37 L357.00,71.74 L357.50,76.17 L358.00,79.46 L358.50,81.65 L359.00,83.09 L359.50,84.03 L360.00,84.65 L360.50,85.05 L361.00,85.29 L361.50,85.39 L362.00,85.37 L362.50,85.23 L363.00,84.94 L363.50,84.49 L364.00,83.83 L364.50,82.86 L365.00,81.46 L365.50,79.46 L366.00,76.72 L366.50,73.33 L367.00,70.06 L367.50,68.60 L368.00,70.02 L368.50,73.24 L369.00,76.60 L369.50,79.30 L370.00,81.26 L370.50,82.64 L371.00,83.60 L371.50,84.26 L372.00,84.72 L372.50,85.05 L373.00,85.29 L373.50,85.47 L374.00,85.60 L374.50,85.68 L375.00,85.73 L375.50,85.74 L376.00,85.71 L376.50,85.64 L377.00,85.53 L377.50,85.37 L378.00,85.15 L378.50,84.84 L379.00,84.40 L379.50,83.74 L380.00,82.76 L380.50,81.30 L381.00,79.10 L381.50,75.87 L382.00,71.48 L382.50,66.79 L383.00,64.50 L383.50,66.64 L384.00,71.17 L384.50,75.38 L385.00,78.39 L385.50,80.30 L386.00,81.40 L386.50,81.86 L387.00,81.76 L387.50,81.05 L388.00,79.55 L388.50,77.10 L389.00,73.99 L389.50,71.95 L390.00,73.11 L390.50,76.38 L391.00,79.51 L391.50,81.74 L392.00,83.21 L392.50,84.14 L393.00,84.73 L393.50,85.11 L394.00,85.37 L394.50,85.53 L395.00,85.64 L395.50,85.68 L396.00,85.68 L396.50,85.63 L397.00,85.53 L397.50,85.37 L398.00,85.13 L398.50,84.78 L399.00,84.29 L399.50,83.57 L400.00,82.55 L400.50,81.11 L401.00,79.16 L401.50,76.82 L402.00,74.76 L402.50,74.14 L403.00,75.44 L403.50,77.71 L404.00,79.90 L404.50,81.62 L405.00,82.85 L405.50,83.71 L406.00,84.30 L406.50,84.70 L407.00,84.98 L407.50,85.17 L408.00,85.30 L408.50,85.39 L409.00,85.44 L409.50,85.45 L410.00,85.41 L410.50,85.32 L411.00,85.17 L411.50,84.93 L412.00,84.60 L412.50,84.19 L413.00,83.82 L413.50,83.71 L414.00,83.95 L414.50,84.36 L415.00,84.76 L415.50,85.07 L416.00,85.29 L416.50,85.44 L417.00,85.56 L417.50,85.64 L418.00,85.70 L418.50,85.75 L419.00,85.79 L419.50,85.82 L420.00,85.84 L420.50,85.86 L421.00,85.88 L421.50,85.89 L422.00,85.89 L422.50,85.90 L423.00,85.90 L423.50,85.89 L424.00,85.89 L424.50,85.88 L425.00,85.87 L425.50,85.85 L426.00,85.83 L426.50,85.81 L427.00,85.78 L427.50,85.75 L428.00,85.71 L428.50,85.66 L429.00,85.59 L429.50,85.52 L430.00,85.43 L430.50,85.31 L431.00,85.16 L431.50,84.96 L432.00,84.69 L432.50,84.31 L433.00,83.77 L433.50,82.98 L434.00,81.86 L434.50,80.27 L435.00,78.14 L435.50,75.70 L436.00,73.78 L436.50,73.60 L437.00,75.33 L437.50,77.82 L438.00,80.11 L438.50,81.87 L439.00,83.14 L439.50,84.04 L440.00,84.67 L440.50,85.13 L441.00,85.46 L441.50,85.70 L442.00,85.86 L442.50,85.97 L443.00,86.03 L443.50,86.02 L444.00,85.95 L444.50,85.78 L445.00,85.48 L445.50,85.00 L446.00,84.34 L446.50,83.80 L447.00,83.84 L447.50,84.40 L448.00,84.97 L448.50,85.35 L449.00,85.52 L449.50,85.53 L450.00,85.39 L450.50,85.09 L451.00,84.64 L451.50,84.01 L452.00,83.37 L452.50,83.04 L453.00,83.14 L453.50,83.33 L454.00,83.31 L454.50,82.97 L455.00,82.30 L455.50,81.27 L456.00,79.98 L456.50,78.71 L457.00,77.89 L457.50,77.72 L458.00,77.94 L458.50,78.07 L459.00,77.77 L459.50,76.80 L460.00,75.01 L460.50,72.20 L461.00,68.07 L461.50,62.27 L462.00,54.48 L462.50,44.74 L463.00,34.38 L463.50,26.80 L464.00,26.04 L464.50,32.61 L465.00,42.83 L465.50,52.94 L466.00,61.26 L466.50,67.57 L467.00,72.21 L467.50,75.58 L468.00,78.03 L468.50,79.83 L469.00,81.14 L469.50,82.10 L470.00,82.84 L470.50,83.43 L471.00,83.92 L471.50,84.31 L472.00,84.65 L472.50,84.93 L473.00,85.17 L473.50,85.38 L474.00,85.56 L474.50,85.71 L475.00,85.85 L475.50,85.97 L476.00,86.08 L476.50,86.18 L477.00,86.26 L477.50,86.33 L478.00,86.39 L478.50,86.43 L479.00,86.46 L479.50,86.48 L480.00,86.49 L480.50,86.48 L481.00,86.45 L481.50,86.41 L482.00,86.34 L482.50,86.24 L483.00,86.11 L483.50,85.93 L484.00,85.68 L484.50,85.35 L485.00,84.93 L485.50,84.38 L486.00,83.75 L486.50,83.12 L487.00,82.69 L487.50,82.64 L488.00,83.00 L488.50,83.59 L489.00,84.22 L489.50,84.77 L490.00,85.21 L490.50,85.55 L491.00,85.80 L491.50,85.99 L492.00,86.13 L492.50,86.24 L493.00,86.33 L493.50,86.40 L494.00,86.46 L494.50,86.51 L495.00,86.55 L495.50,86.59 L496.00,86.62 L496.50,86.65 L497.00,86.67 L497.50,86.70 L498.00,86.72 L498.50,86.74 L499.00,86.75 L499.50,86.77 L500.00,86.78 L500.50,86.79 L501.00,86.80 L501.50,86.81 L502.00,86.82 L502.50,86.82 L503.00,86.83 L503.50,86.83 L504.00,86.83 L504.50,86.82 L505.00,86.82 L505.50,86.81 L506.00,86.80 L506.50,86.78 L507.00,86.76 L507.50,86.74 L508.00,86.71 L508.50,86.67 L509.00,86.63 L509.50,86.57 L510.00,86.49 L510.50,86.38 L511.00,86.23 L511.50,86.05 L512.00,85.80 L512.50,85.45 L513.00,84.98 L513.50,84.30 L514.00,83.32 L514.50,81.89 L515.00,79.86 L515.50,77.25 L516.00,74.61 L516.50,73.40 L517.00,74.61 L517.50,77.25 L518.00,79.87 L518.50,81.90 L519.00,83.33 L519.50,84.32 L520.00,85.00 L520.50,85.48 L521.00,85.82 L521.50,86.08 L522.00,86.27 L522.50,86.42 L523.00,86.53 L523.50,86.62 L524.00,86.69 L524.50,86.74 L525.00,86.79 L525.50,86.84 L526.00,86.87 L526.50,86.90 L527.00,86.93 L527.50,86.96 L528.00,86.98 L528.50,87.00 L529.00,87.02 L529.50,87.04 L530.00,87.06 L530.50,87.08 L531.00,87.09 L531.50,87.11 L532.00,87.12 L532.50,87.14 L533.00,87.15 L533.50,87.16 L534.00,87.18 L534.50,87.19 L535.00,87.20"/>
<path d="M294.00,178.40 L294.50,178.38 L295.00,178.35 L295.50,178.32 L296.00,178.28 L296.50,178.23 L297.00,178.16 L297.50,178.06 L298.00,177.92 L298.50,177.69 L299.00,177.31 L299.50,176.68 L300.00,175.84 L300.50,175.30 L301.00,175.63 L301.50,176.22 L302.00,176.46 L302.50,176.22 L303.00,175.50 L303.50,174.59 L304.00,174.55 L304.50,175.57 L305.00,176.62 L305.50,177.33 L306.00,177.75 L306.50,178.01 L307.00,178.17 L307.50,178.27 L308.00,178.33 L308.50,178.37 L309.00,178.39 L309.50,178.40 L310.00,178.39 L310.50,178.36 L311.00,178.33 L311.50,178.29 L312.00,178.23 L312.50,178.15 L313.00,178.06 L313.50,177.95 L314.00,177.82 L314.50,177.68 L315.00,177.51 L315.50,177.31 L316.00,177.08 L316.50,176.80 L317.00,176.46 L317.50,176.04 L318.00,175.52 L318.50,174.86 L319.00,173.97 L319.50,172.72 L320.00,170.97 L320.50,168.50 L321.00,164.97 L321.50,159.89 L322.00,152.62 L322.50,142.65 L323.00,130.43 L323.50,119.42 L324.00,116.12 L324.50,123.13 L325.00,135.16 L325.50,146.48 L326.00,155.07 L326.50,160.99 L327.00,164.82 L327.50,167.07 L328.00,168.10 L328.50,168.23 L329.00,167.94 L329.50,168.01 L330.00,168.88 L330.50,170.04 L331.00,170.76 L331.50,171.17 L332.00,172.39 L332.50,174.30 L333.00,175.85 L333.50,176.85 L334.00,177.50 L334.50,177.92 L335.00,178.21 L335.50,178.40 L336.00,178.51 L336.50,178.56 L337.00,178.54 L337.50,178.45 L338.00,178.28 L338.50,177.98 L339.00,177.53 L339.50,176.86 L340.00,175.88 L340.50,174.53 L341.00,172.85 L341.50,171.23 L342.00,170.51 L342.50,171.23 L343.00,172.85 L343.50,174.54 L344.00,175.90 L344.50,176.89 L345.00,177.58 L345.50,178.05 L346.00,178.38 L346.50,178.61 L347.00,178.77 L347.50,178.89 L348.00,178.97 L348.50,179.02 L349.00,179.03 L349.50,179.02 L350.00,178.98 L350.50,178.91 L351.00,178.80 L351.50,178.64 L352.00,178.43 L352.50,178.13 L353.00,177.71 L353.50,177.07 L354.00,176.11 L354.50,174.64 L355.00,172.43 L355.50,169.34 L356.00,165.79 L356.50,163.57 L357.00,164.64 L357.50,168.01 L358.00,171.45 L358.50,174.05 L359.00,175.83 L359.50,177.00 L360.00,177.76 L360.50,178.25 L361.00,178.55 L361.50,178.71 L362.00,178.75 L362.50,178.66 L363.00,178.45 L363.50,178.06 L364.00,177.45 L364.50,176.51 L365.00,175.09 L365.50,172.96 L366.00,169.90 L366.50,165.91 L367.00,161.87 L367.50,160.01 L368.00,161.86 L368.50,165.91 L369.00,169.93 L369.50,173.01 L370.00,175.18 L370.50,176.65 L371.00,177.65 L371.50,178.32 L372.00,178.78 L372.50,179.08 L373.00,179.27 L373.50,179.38 L374.00,179.40 L374.50,179.37 L375.00,179.27 L375.50,179.11 L376.00,178.89 L376.50,178.59 L377.00,178.20 L377.50,177.69 L378.00,177.01 L378.50,176.06 L379.00,174.76 L379.50,172.96 L380.00,170.45 L380.50,166.95 L381.00,162.14 L381.50,155.78 L382.00,148.22 L382.50,141.25 L383.00,138.21 L383.50,141.09 L384.00,147.89 L384.50,155.23 L385.00,161.31 L385.50,165.75 L386.00,168.71 L386.50,170.46 L387.00,171.18 L387.50,171.03 L388.00,170.23 L388.50,169.41 L389.00,169.55 L389.50,171.04 L390.00,173.19 L390.50,175.19 L391.00,176.75 L391.50,177.86 L392.00,178.61 L392.50,179.10 L393.00,179.43 L393.50,179.60 L394.00,179.65 L394.50,179.58 L395.00,179.40 L395.50,179.10 L396.00,178.67 L396.50,178.07 L397.00,177.25 L397.50,176.15 L398.00,174.64 L398.50,172.55 L399.00,169.66 L399.50,165.68 L400.00,160.38 L400.50,153.91 L401.00,147.51 L401.50,143.93 L402.00,145.45 L402.50,150.96 L403.00,157.51 L403.50,163.20 L404.00,167.56 L404.50,170.73 L405.00,173.00 L405.50,174.61 L406.00,175.77 L406.50,176.61 L407.00,177.23 L407.50,177.70 L408.00,178.06 L408.50,178.36 L409.00,178.60 L409.50,178.81 L410.00,178.98 L410.50,179.12 L411.00,179.24 L411.50,179.35 L412.00,179.45 L412.50,179.53 L413.00,179.60 L413.50,179.67 L414.00,179.73 L414.50,179.79 L415.00,179.84 L415.50,179.89 L416.00,179.93 L416.50,179.97 L417.00,180.01 L417.50,180.04 L418.00,180.07 L418.50,180.09 L419.00,180.12 L419.50,180.14 L420.00,180.15 L420.50,180.16 L421.00,180.17 L421.50,180.17 L422.00,180.16 L422.50,180.15 L423.00,180.14 L423.50,180.11 L424.00,180.08 L424.50,180.04 L425.00,179.97 L425.50,179.89 L426.00,179.78 L426.50,179.64 L427.00,179.43 L427.50,179.13 L428.00,178.72 L428.50,178.11 L429.00,177.24 L429.50,176.10 L430.00,174.92 L430.50,174.23 L431.00,174.54 L431.50,175.59 L432.00,176.78 L432.50,177.75 L433.00,178.44 L433.50,178.87 L434.00,179.10 L434.50,179.18 L435.00,179.11 L435.50,178.90 L436.00,178.53 L436.50,177.99 L437.00,177.25 L437.50,176.30 L438.00,175.21 L438.50,174.14 L439.00,173.42 L439.50,173.39 L440.00,174.07 L440.50,175.18 L441.00,176.37 L441.50,177.43 L442.00,178.30 L442.50,178.95 L443.00,179.44 L443.50,179.80 L444.00,180.07 L444.50,180.27 L445.00,180.43 L445.50,180.54 L446.00,180.62 L446.50,180.67 L447.00,180.69 L447.50,180.69 L448.00,180.65 L448.50,180.59 L449.00,180.48 L449.50,180.31 L450.00,180.05 L450.50,179.64 L451.00,178.96 L451.50,177.90 L452.00,176.57 L452.50,176.03 L453.00,176.90 L453.50,178.00 L454.00,178.63 L454.50,178.77 L455.00,178.46 L455.50,177.66 L456.00,176.16 L456.50,174.05 L457.00,172.62 L457.50,173.26 L458.00,174.54 L458.50,175.15 L459.00,174.95 L459.50,174.07 L460.00,172.55 L460.50,170.35 L461.00,167.36 L461.50,163.47 L462.00,158.64 L462.50,153.13 L463.00,147.79 L463.50,144.18 L464.00,143.82 L464.50,146.88 L465.00,152.01 L465.50,157.57 L466.00,162.54 L466.50,166.62 L467.00,169.81 L467.50,172.26 L468.00,174.12 L468.50,175.52 L469.00,176.59 L469.50,177.38 L470.00,177.97 L470.50,178.44 L471.00,178.83 L471.50,179.14 L472.00,179.41 L472.50,179.63 L473.00,179.82 L473.50,179.98 L474.00,180.12 L474.50,180.24 L475.00,180.35 L475.50,180.45 L476.00,180.53 L476.50,180.61 L477.00,180.68 L477.50,180.74 L478.00,180.79 L478.50,180.85 L479.00,180.90 L479.50,180.94 L480.00,180.98 L480.50,181.02 L481.00,181.06 L481.50,181.09 L482.00,181.12 L482.50,181.15 L483.00,181.18 L483.50,181.21 L484.00,181.23 L484.50,181.26 L485.00,181.28 L485.50,181.30 L486.00,181.32 L486.50,181.34 L487.00,181.36 L487.50,181.37 L488.00,181.39 L488.50,181.40 L489.00,181.41 L489.50,181.42 L490.00,181.43 L490.50,181.43 L491.00,181.44 L491.50,181.44 L492.00,181.43 L492.50,181.43 L493.00,181.42 L493.50,181.41 L494.00,181.39 L494.50,181.36 L495.00,181.31 L495.50,181.26 L496.00,181.17 L496.50,181.05 L497.00,180.88 L497.50,180.62 L498.00,180.28 L498.50,179.88 L499.00,179.56 L499.50,179.54 L500.00,179.83 L500.50,180.25 L501.00,180.63 L501.50,180.92 L502.00,181.12 L502.50,181.26 L503.00,181.36 L503.50,181.41 L504.00,181.45 L504.50,181.46 L505.00,181.45 L505.50,181.44 L506.00,181.40 L506.50,181.36 L507.00,181.29 L507.50,181.22 L508.00,181.12 L508.50,181.00 L509.00,180.85 L509.50,180.66 L510.00,180.43 L510.50,180.11 L511.00,179.70 L511.50,179.16 L512.00,178.47 L512.50,177.56 L513.00,176.36 L513.50,174.78 L514.00,172.69 L514.50,169.96 L515.00,166.47 L515.50,162.24 L516.00,157.70 L516.50,153.92 L517.00,152.40 L517.50,153.91 L518.00,157.68 L518.50,162.21 L519.00,166.43 L519.50,169.91 L520.00,172.64 L520.50,174.72 L521.00,176.29 L521.50,177.48 L522.00,178.38 L522.50,179.07 L523.00,179.60 L523.50,180.01 L524.00,180.33 L524.50,180.58 L525.00,180.78 L525.50,180.95 L526.00,181.10 L526.50,181.23 L527.00,181.34 L527.50,181.43 L528.00,181.52 L528.50,181.60 L529.00,181.67 L529.50,181.73 L530.00,181.79 L530.50,181.84 L531.00,181.89 L531.50,181.94 L532.00,181.98 L532.50,182.02 L533.00,182.06 L533.50,182.10 L534.00,182.13 L534.50,182.17 L535.00,182.20"/>
<path d="M294.00,280.20 L294.50,279.75 L295.00,279.25 L295.50,278.66 L296.00,277.96 L296.50,277.08 L297.00,275.95 L297.50,274.53 L298.00,272.69 L298.50,270.31 L299.00,267.19 L299.50,263.05 L300.00,257.55 L300.50,250.27 L301.00,240.82 L301.50,229.19 L302.00,216.43 L302.50,205.57 L303.00,201.10 L303.50,205.41 L304.00,216.11 L304.50,228.72 L305.00,240.20 L305.50,249.49 L306.00,256.63 L306.50,261.99 L307.00,265.99 L307.50,268.99 L308.00,271.26 L308.50,272.99 L309.00,274.31 L309.50,275.33 L310.00,276.11 L310.50,276.69 L311.00,277.17 L311.50,277.57 L312.00,277.90 L312.50,278.19 L313.00,278.43 L313.50,278.63 L314.00,278.81 L314.50,278.96 L315.00,279.10 L315.50,279.22 L316.00,279.32 L316.50,279.41 L317.00,279.49 L317.50,279.57 L318.00,279.63 L318.50,279.69 L319.00,279.74 L319.50,279.79 L320.00,279.84 L320.50,279.88 L321.00,279.91 L321.50,279.95 L322.00,279.98 L322.50,280.01 L323.00,280.03 L323.50,280.06 L324.00,280.08 L324.50,280.10 L325.00,280.12 L325.50,280.14 L326.00,280.16 L326.50,280.18 L327.00,280.19 L327.50,280.21 L328.00,280.22 L328.50,280.23 L329.00,280.24 L329.50,280.26 L330.00,280.27 L330.50,280.28 L331.00,280.29 L331.50,280.30 L332.00,280.31 L332.50,280.32 L333.00,280.33 L333.50,280.34 L334.00,280.34 L334.50,280.35 L335.00,280.36 L335.50,280.37 L336.00,280.37 L336.50,280.38 L337.00,280.39 L337.50,280.40 L338.00,280.40 L338.50,280.41 L339.00,280.41 L339.50,280.42 L340.00,280.43 L340.50,280.43 L341.00,280.44 L341.50,280.44 L342.00,280.45 L342.50,280.46 L343.00,280.46 L343.50,280.47 L344.00,280.47 L344.50,280.48 L345.00,280.48 L345.50,280.49 L346.00,280.49 L346.50,280.50 L347.00,280.51 L347.50,280.51 L348.00,280.52 L348.50,280.52 L349.00,280.53 L349.50,280.53 L350.00,280.54 L350.50,280.54 L351.00,280.55 L351.50,280.55 L352.00,280.55 L352.50,280.56 L353.00,280.56 L353.50,280.57 L354.00,280.57 L354.50,280.58 L355.00,280.58 L355.50,280.58 L356.00,280.59 L356.50,280.59 L357.00,280.59 L357.50,280.59 L358.00,280.60 L358.50,280.60 L359.00,280.60 L359.50,280.60 L360.00,280.60 L360.50,280.61 L361.00,280.61 L361.50,280.61 L362.00,280.61 L362.50,280.61 L363.00,280.61 L363.50,280.61 L364.00,280.60 L364.50,280.60 L365.00,280.60 L365.50,280.59 L366.00,280.59 L366.50,280.58 L367.00,280.57 L367.50,280.56 L368.00,280.55 L368.50,280.54 L369.00,280.52 L369.50,280.50 L370.00,280.47 L370.50,280.43 L371.00,280.38 L371.50,280.32 L372.00,280.24 L372.50,280.12 L373.00,279.97 L373.50,279.77 L374.00,279.48 L374.50,279.06 L375.00,278.46 L375.50,277.56 L376.00,276.28 L376.50,274.57 L377.00,272.82 L377.50,272.00 L378.00,272.82 L378.50,274.59 L379.00,276.29 L379.50,277.58 L380.00,278.48 L380.50,279.10 L381.00,279.52 L381.50,279.81 L382.00,280.02 L382.50,280.18 L383.00,280.30 L383.50,280.39 L384.00,280.46 L384.50,280.51 L385.00,280.56 L385.50,280.59 L386.00,280.62 L386.50,280.65 L387.00,280.67 L387.50,280.69 L388.00,280.71 L388.50,280.72 L389.00,280.73 L389.50,280.75 L390.00,280.76 L390.50,280.77 L391.00,280.78 L391.50,280.79 L392.00,280.80 L392.50,280.80 L393.00,280.81 L393.50,280.82 L394.00,280.82 L394.50,280.82 L395.00,280.83 L395.50,280.83 L396.00,280.83 L396.50,280.83 L397.00,280.82 L397.50,280.82 L398.00,280.81 L398.50,280.79 L399.00,280.77 L399.50,280.73 L400.00,280.68 L400.50,280.59 L401.00,280.44 L401.50,280.20 L402.00,279.85 L402.50,279.54 L403.00,279.58 L403.50,279.94 L404.00,280.27 L404.50,280.50 L405.00,280.63 L405.50,280.72 L406.00,280.77 L406.50,280.81 L407.00,280.84 L407.50,280.86 L408.00,280.87 L408.50,280.88 L409.00,280.89 L409.50,280.90 L410.00,280.91 L410.50,280.92 L411.00,280.92 L411.50,280.93 L412.00,280.93 L412.50,280.94 L413.00,280.94 L413.50,280.94 L414.00,280.95 L414.50,280.95 L415.00,280.95 L415.50,280.96 L416.00,280.96 L416.50,280.96 L417.00,280.96 L417.50,280.96 L418.00,280.96 L418.50,280.97 L419.00,280.97 L419.50,280.97 L420.00,280.97 L420.50,280.97 L421.00,280.97 L421.50,280.97 L422.00,280.97 L422.50,280.97 L423.00,280.96 L423.50,280.96 L424.00,280.96 L424.50,280.95 L425.00,280.95 L425.50,280.94 L426.00,280.93 L426.50,280.93 L427.00,280.91 L427.50,280.90 L428.00,280.88 L428.50,280.86 L429.00,280.83 L429.50,280.80 L430.00,280.76 L430.50,280.70 L431.00,280.62 L431.50,280.52 L432.00,280.37 L432.50,280.16 L433.00,279.87 L433.50,279.45 L434.00,278.87 L434.50,278.10 L435.00,277.20 L435.50,276.43 L436.00,276.22 L436.50,276.72 L437.00,277.61 L437.50,278.50 L438.00,279.22 L438.50,279.75 L439.00,280.14 L439.50,280.42 L440.00,280.62 L440.50,280.77 L441.00,280.87 L441.50,280.95 L442.00,281.01 L442.50,281.05 L443.00,281.07 L443.50,281.07 L444.00,281.05 L444.50,280.98 L445.00,280.86 L445.50,280.65 L446.00,280.33 L446.50,280.03 L447.00,280.08 L447.50,280.41 L448.00,280.72 L448.50,280.92 L449.00,281.04 L449.50,281.11 L450.00,281.15 L450.50,281.17 L451.00,281.18 L451.50,281.18 L452.00,281.17 L452.50,281.15 L453.00,281.13 L453.50,281.10 L454.00,281.05 L454.50,281.00 L455.00,280.93 L455.50,280.84 L456.00,280.71 L456.50,280.55 L457.00,280.34 L457.50,280.05 L458.00,279.64 L458.50,279.07 L459.00,278.22 L459.50,276.99 L460.00,275.21 L460.50,272.86 L461.00,270.43 L461.50,269.30 L462.00,270.43 L462.50,272.85 L463.00,275.19 L463.50,276.96 L464.00,278.20 L464.50,279.04 L465.00,279.61 L465.50,280.01 L466.00,280.30 L466.50,280.51 L467.00,280.68 L467.50,280.80 L468.00,280.89 L468.50,280.97 L469.00,281.03 L469.50,281.07 L470.00,281.11 L470.50,281.15 L471.00,281.18 L471.50,281.20 L472.00,281.22 L472.50,281.24 L473.00,281.26 L473.50,281.28 L474.00,281.29 L474.50,281.30 L475.00,281.31 L475.50,281.32 L476.00,281.33 L476.50,281.33 L477.00,281.34 L477.50,281.34 L478.00,281.34 L478.50,281.34 L479.00,281.34 L479.50,281.33 L480.00,281.32 L480.50,281.30 L481.00,281.28 L481.50,281.24 L482.00,281.20 L482.50,281.12 L483.00,281.01 L483.50,280.83 L484.00,280.56 L484.50,280.17 L485.00,279.70 L485.50,279.41 L486.00,279.55 L486.50,280.00 L487.00,280.45 L487.50,280.77 L488.00,280.99 L488.50,281.14 L489.00,281.23 L489.50,281.30 L490.00,281.34 L490.50,281.37 L491.00,281.39 L491.50,281.39 L492.00,281.39 L492.50,281.38 L493.00,281.37 L493.50,281.34 L494.00,281.30 L494.50,281.24 L495.00,281.16 L495.50,281.05 L496.00,280.89 L496.50,280.67 L497.00,280.36 L497.50,279.90 L498.00,279.22 L498.50,278.24 L499.00,276.95 L499.50,275.62 L500.00,275.00 L500.50,275.62 L501.00,276.96 L501.50,278.26 L502.00,279.24 L502.50,279.92 L503.00,280.38 L503.50,280.70 L504.00,280.93 L504.50,281.09 L505.00,281.20 L505.50,281.29 L506.00,281.36 L506.50,281.41 L507.00,281.45 L507.50,281.48 L508.00,281.51 L508.50,281.52 L509.00,281.53 L509.50,281.54 L510.00,281.54 L510.50,281.54 L511.00,281.53 L511.50,281.52 L512.00,281.49 L512.50,281.46 L513.00,281.42 L513.50,281.36 L514.00,281.28 L514.50,281.17 L515.00,281.04 L515.50,280.85 L516.00,280.59 L516.50,280.23 L517.00,279.72 L517.50,279.02 L518.00,278.13 L518.50,277.12 L519.00,276.35 L519.50,276.27 L520.00,276.93 L520.50,277.91 L521.00,278.84 L521.50,279.57 L522.00,280.10 L522.50,280.49 L523.00,280.76 L523.50,280.96 L524.00,281.10 L524.50,281.21 L525.00,281.29 L525.50,281.35 L526.00,281.40 L526.50,281.44 L527.00,281.48 L527.50,281.50 L528.00,281.53 L528.50,281.55 L529.00,281.57 L529.50,281.58 L530.00,281.60 L530.50,281.61 L531.00,281.62 L531.50,281.64 L532.00,281.65 L532.50,281.66 L533.00,281.67 L533.50,281.67 L534.00,281.68 L534.50,281.69 L535.00,281.70"/>
<path d="M294.50,339.00 L295.00,338.65 L295.50,338.27 L296.00,337.86 L296.50,337.41 L297.00,336.91 L297.50,336.33 L298.00,335.63 L298.50,334.77 L299.00,333.69 L299.50,332.56 L300.00,330.95 L300.50,328.63 L301.00,325.25 L301.50,320.32 L302.00,313.33 L302.50,304.14 L303.00,294.35 L303.50,288.66 L304.00,291.47 L304.50,300.60 L305.00,310.66 L305.50,318.85 L306.00,324.81 L306.50,329.02 L307.00,331.98 L307.50,334.10 L308.00,335.66 L308.50,336.83 L309.00,337.72 L309.50,338.40 L310.00,338.94 L310.50,339.35 L311.00,339.67 L311.50,339.89 L312.00,340.03 L312.50,340.12 L313.00,340.14 L313.50,340.10 L314.00,340.01 L314.50,339.82 L315.00,339.52 L315.50,339.16 L316.00,338.63 L316.50,337.91 L317.00,336.92 L317.50,335.55 L318.00,333.64 L318.50,330.98 L319.00,327.27 L319.50,322.16 L320.00,315.36 L320.50,307.10 L321.00,299.03 L321.50,294.63 L322.00,296.71 L322.50,303.93 L323.00,312.56 L323.50,320.16 L324.00,326.07 L324.50,330.45 L325.00,333.64 L325.50,335.97 L326.00,337.70 L326.50,339.01 L327.00,340.02 L327.50,340.82 L328.00,341.46 L328.50,341.98 L329.00,342.42 L329.50,342.81 L330.00,343.15 L330.50,343.46 L331.00,343.74 L331.50,344.00 L332.00,344.24 L332.50,344.47 L333.00,344.69 L333.50,344.89 L334.00,345.09 L334.50,345.28 L335.00,345.47 L335.50,345.64 L336.00,345.82 L336.50,345.99 L337.00,346.15 L337.50,346.30 L338.00,346.40 L338.50,346.50 L339.00,346.59 L339.50,346.68 L340.00,346.77 L340.50,346.85 L341.00,346.92 L341.50,346.99 L342.00,347.04 L342.50,347.08 L343.00,347.08 L343.50,347.04 L344.00,346.87 L344.50,346.49 L345.00,345.97 L345.50,346.09 L346.00,346.71 L346.50,347.11 L347.00,347.30 L347.50,347.37 L348.00,347.34 L348.50,347.24 L349.00,347.04 L349.50,346.71 L350.00,346.17 L350.50,345.31 L351.00,343.99 L351.50,342.16 L352.00,340.31 L352.50,339.75 L353.00,341.08 L353.50,343.10 L354.00,344.79 L354.50,345.93 L355.00,346.60 L355.50,346.85 L356.00,346.63 L356.50,346.02 L357.00,346.11 L357.50,347.16 L358.00,348.00 L358.50,348.48 L359.00,348.76 L359.50,348.96 L360.00,349.12 L360.50,349.25 L361.00,349.38 L361.50,349.55 L362.00,349.71 L362.50,349.86 L363.00,350.01 L363.50,350.16 L364.00,350.30 L364.50,350.44 L365.00,350.58 L365.50,350.71 L366.00,350.85 L366.50,350.98 L367.00,351.10 L367.50,351.23 L368.00,351.36 L368.50,351.48 L369.00,351.60 L369.50,351.71 L370.00,351.82 L370.50,351.93 L371.00,352.04 L371.50,352.13 L372.00,352.22 L372.50,352.20 L373.00,352.17 L373.50,352.11 L374.00,352.03 L374.50,351.90 L375.00,351.72 L375.50,351.47 L376.00,351.14 L376.50,350.72 L377.00,350.23 L377.50,349.77 L378.00,349.51 L378.50,349.59 L379.00,349.99 L379.50,350.55 L380.00,351.12 L380.50,351.62 L381.00,352.02 L381.50,352.34 L382.00,352.59 L382.50,352.80 L383.00,352.96 L383.50,353.10 L384.00,353.21 L384.50,353.30 L385.00,353.38 L385.50,353.45 L386.00,353.50 L386.50,353.55 L387.00,353.58 L387.50,353.62 L388.00,353.64 L388.50,353.66 L389.00,353.66 L389.50,353.65 L390.00,353.62 L390.50,353.56 L391.00,353.44 L391.50,353.22 L392.00,352.82 L392.50,352.12 L393.00,351.07 L393.50,350.23 L394.00,350.68 L394.50,351.85 L395.00,352.76 L395.50,353.33 L396.00,353.67 L396.50,353.88 L397.00,354.03 L397.50,354.14 L398.00,354.22 L398.50,354.30 L399.00,354.36 L399.50,354.41 L400.00,354.46 L400.50,354.51 L401.00,354.56 L401.50,354.59 L402.00,354.63 L402.50,354.66 L403.00,354.69 L403.50,354.72 L404.00,354.75 L404.50,354.78 L405.00,354.81 L405.50,354.84 L406.00,354.87 L406.50,354.90 L407.00,354.92 L407.50,354.95 L408.00,354.98 L408.50,355.00 L409.00,355.03 L409.50,355.06 L410.00,355.08 L410.50,355.11 L411.00,355.13 L411.50,355.16 L412.00,355.18 L412.50,355.21 L413.00,355.23 L413.50,355.26 L414.00,355.28 L414.50,355.25 L415.00,355.22 L415.50,355.20 L416.00,355.17 L416.50,355.14 L417.00,355.11 L417.50,355.08 L418.00,355.05 L418.50,355.02 L419.00,354.99 L419.50,354.96 L420.00,354.93 L420.50,354.90 L421.00,354.86 L421.50,354.83 L422.00,354.80 L422.50,354.76 L423.00,354.73 L423.50,354.69 L424.00,354.65 L424.50,354.62 L425.00,354.58 L425.50,354.53 L426.00,354.49 L426.50,354.44 L427.00,354.39 L427.50,354.34 L428.00,354.28 L428.50,354.21 L429.00,354.14 L429.50,354.06 L430.00,353.97 L430.50,353.86 L431.00,353.73 L431.50,353.58 L432.00,353.40 L432.50,353.12 L433.00,352.78 L433.50,352.34 L434.00,351.74 L434.50,350.84 L435.00,349.47 L435.50,347.34 L436.00,344.03 L436.50,339.14 L437.00,333.37 L437.50,330.30 L438.00,333.08 L438.50,338.55 L439.00,343.10 L439.50,346.06 L440.00,347.77 L440.50,348.66 L441.00,348.96 L441.50,348.84 L442.00,348.35 L442.50,347.51 L443.00,346.40 L443.50,345.19 L444.00,344.26 L444.50,344.03 L445.00,344.65 L445.50,345.83 L446.00,347.14 L446.50,348.31 L447.00,349.24 L447.50,349.94 L448.00,350.43 L448.50,350.76 L449.00,351.00 L449.50,351.24 L450.00,351.42 L450.50,351.56 L451.00,351.68 L451.50,351.78 L452.00,351.85 L452.50,351.92 L453.00,351.98 L453.50,352.02 L454.00,352.06 L454.50,352.09 L455.00,352.12 L455.50,352.14 L456.00,352.16 L456.50,352.18 L457.00,352.19 L457.50,352.20 L458.00,352.20 L458.50,352.20 L459.00,352.20 L459.50,352.19 L460.00,352.18 L460.50,352.17 L461.00,352.15 L461.50,352.13 L462.00,352.10 L462.50,352.07 L463.00,352.03 L463.50,351.99 L464.00,351.93 L464.50,351.86 L465.00,351.77 L465.50,351.70 L466.00,351.59 L466.50,351.43 L467.00,351.20 L467.50,350.83 L468.00,350.24 L468.50,349.26 L469.00,347.70 L469.50,345.49 L470.00,343.36 L470.50,343.14 L471.00,345.15 L471.50,347.54 L472.00,349.32 L472.50,350.48 L473.00,351.20 L473.50,351.66 L474.00,351.93 L474.50,352.09 L475.00,352.15 L475.50,352.14 L476.00,352.03 L476.50,351.84 L477.00,351.54 L477.50,351.12 L478.00,350.55 L478.50,349.80 L479.00,348.83 L479.50,347.60 L480.00,346.06 L480.50,344.19 L481.00,342.02 L481.50,339.69 L482.00,337.52 L482.50,336.01 L483.00,335.63 L483.50,336.50 L484.00,338.34 L484.50,340.64 L485.00,342.97 L485.50,345.07 L486.00,346.86 L486.50,348.34 L487.00,349.54 L487.50,350.50 L488.00,351.26 L488.50,351.88 L489.00,352.38 L489.50,352.78 L490.00,353.10 L490.50,353.37 L491.00,353.61 L491.50,353.81 L492.00,354.00 L492.50,354.17 L493.00,354.32 L493.50,354.44 L494.00,354.55 L494.50,354.64 L495.00,354.71 L495.50,354.76 L496.00,354.80 L496.50,354.81 L497.00,354.81 L497.50,354.78 L498.00,354.73 L498.50,354.63 L499.00,354.50 L499.50,354.31 L500.00,354.06 L500.50,353.76 L501.00,353.40 L501.50,353.22 L502.00,353.09 L502.50,353.10 L503.00,353.32 L503.50,353.76 L504.00,354.37 L504.50,355.03 L505.00,355.69 L505.50,356.31 L506.00,356.86 L506.50,357.36 L507.00,357.80 L507.50,358.20 L508.00,358.58 L508.50,358.93 L509.00,359.27 L509.50,359.59 L510.00,359.82 L510.50,359.98 L511.00,360.13 L511.50,360.28 L512.00,360.42 L512.50,360.56 L513.00,360.70 L513.50,360.83 L514.00,360.97 L514.50,361.10 L515.00,361.23 L515.50,361.36 L516.00,361.48 L516.50,361.61 L517.00,361.74 L517.50,361.86 L518.00,361.99 L518.50,362.11 L519.00,362.24 L519.50,362.36 L520.00,362.48 L520.50,362.60 L521.00,362.73 L521.50,362.85 L522.00,362.97 L522.50,363.07 L523.00,363.14 L523.50,363.20 L524.00,363.27 L524.50,363.33 L525.00,363.40 L525.50,363.46 L526.00,363.53 L526.50,363.59 L527.00,363.66 L527.50,363.73 L528.00,363.79 L528.50,363.86 L529.00,363.92 L529.50,363.99 L530.00,364.05 L530.50,364.12 L531.00,364.18 L531.50,364.25 L532.00,364.31 L532.50,364.38 L533.00,364.44 L533.50,364.51 L534.00,364.57 L534.50,364.64 L535.00,364.70"/>
</g>
<line x1="90.5" y1="25.3" x2="81.5" y2="37.7" stroke="#6e6e6e" stroke-width="3.6" stroke-linecap="round"/>
<line x1="81.5" y1="37.7" x2="74.8" y2="45.0" stroke="#858585" stroke-width="1.9" stroke-linecap="round"/>
<line x1="81.5" y1="37.7" x2="78.6" y2="47.5" stroke="#858585" stroke-width="1.9" stroke-linecap="round"/>
<line x1="32.8" y1="57" x2="31.7" y2="62.9" stroke="#c8c8c8" stroke-width="1.5" stroke-linecap="round"/>
<line x1="41.4" y1="43.7" x2="37.6" y2="41" stroke="#c8c8c8" stroke-width="1.5" stroke-linecap="round"/>
<line x1="47.3" y1="38.9" x2="50.5" y2="31.4" stroke="#c8c8c8" stroke-width="1.5" stroke-linecap="round"/>
<line x1="49.9" y1="51.7" x2="53.1" y2="54.9" stroke="#c8c8c8" stroke-width="1.5" stroke-linecap="round"/>
<line x1="43.8" y1="57.4" x2="41.9" y2="63.5" stroke="#c8c8c8" stroke-width="1.5" stroke-linecap="round"/>
<line x1="61.4" y1="28.0" x2="56" y2="23.3" stroke="#c8c8c8" stroke-width="1.5" stroke-linecap="round"/>
<line x1="61.4" y1="28.0" x2="66" y2="25.5" stroke="#c8c8c8" stroke-width="1.5" stroke-linecap="round"/>
<line x1="38.7" y1="52.8" x2="32.8" y2="57" stroke="#3030a0" stroke-width="2.0" stroke-linecap="round"/>
<line x1="79" y1="55.4" x2="82.2" y2="52.7" stroke="#3030a0" stroke-width="2.0" stroke-linecap="round"/>
<line x1="79" y1="55.4" x2="87" y2="61.3" stroke="#3030a0" stroke-width="2.0" stroke-linecap="round"/>
<line x1="52.4" y1="43.5" x2="58.2" y2="36.5" stroke="#b80000" stroke-width="2.5" stroke-linecap="round"/>
<line x1="58.2" y1="36.5" x2="61.4" y2="28.0" stroke="#b80000" stroke-width="2.5" stroke-linecap="round"/>
<line x1="58.2" y1="36.5" x2="65.7" y2="43.6" stroke="#b80000" stroke-width="2.5" stroke-linecap="round"/>
<line x1="58.2" y1="36.5" x2="56.0" y2="34.0" stroke="#b80000" stroke-width="2.5" stroke-linecap="round"/>
<path d="M47.3,38.9 L52.4,43.5 L49.9,51.7 L43.8,57.4 L38.7,52.8 L41.4,43.7 Z" fill="none" stroke="#b80000" stroke-width="2.6" stroke-linejoin="round"/>
<path d="M65.7,43.6 L71,45.8 L76.4,50 L79,55.4 L74.8,53.8 L68.9,49 Z" fill="none" stroke="#b80000" stroke-width="2.6" stroke-linejoin="round"/>
<circle cx="47.3" cy="38.9" r="2.15" fill="url(#gR)"/>
<circle cx="52.4" cy="43.5" r="2.15" fill="url(#gR)"/>
<circle cx="49.9" cy="51.7" r="2.15" fill="url(#gR)"/>
<circle cx="43.8" cy="57.4" r="2.15" fill="url(#gR)"/>
<circle cx="38.7" cy="52.8" r="2.15" fill="url(#gR)"/>
<circle cx="41.4" cy="43.7" r="2.15" fill="url(#gR)"/>
<circle cx="65.7" cy="43.6" r="2.15" fill="url(#gR)"/>
<circle cx="71" cy="45.8" r="2.15" fill="url(#gR)"/>
<circle cx="76.4" cy="50" r="2.15" fill="url(#gR)"/>
<circle cx="79" cy="55.4" r="2.15" fill="url(#gR)"/>
<circle cx="74.8" cy="53.8" r="2.15" fill="url(#gR)"/>
<circle cx="68.9" cy="49" r="2.15" fill="url(#gR)"/>
<circle cx="58.2" cy="36.5" r="2.15" fill="url(#gR)"/>
<circle cx="61.4" cy="28.0" r="2.15" fill="url(#gR)"/>
<circle cx="56.0" cy="34.0" r="2.15" fill="url(#gR)"/>
<circle cx="32.8" cy="57" r="2.3" fill="url(#gB)"/>
<circle cx="82.2" cy="52.7" r="2.3" fill="url(#gB)"/>
<circle cx="87" cy="61.3" r="2.3" fill="url(#gB)"/>
<circle cx="31.7" cy="62.9" r="1.35" fill="url(#gW)"/>
<circle cx="37.6" cy="41" r="1.35" fill="url(#gW)"/>
<circle cx="50.5" cy="31.4" r="1.35" fill="url(#gW)"/>
<circle cx="53.1" cy="54.9" r="1.35" fill="url(#gW)"/>
<circle cx="41.9" cy="63.5" r="1.35" fill="url(#gW)"/>
<circle cx="56" cy="23.3" r="1.35" fill="url(#gW)"/>
<circle cx="66" cy="25.5" r="1.35" fill="url(#gW)"/>
<circle cx="62" cy="31.5" r="1.35" fill="url(#gW)"/>
<circle cx="79.6" cy="49.6" r="1.35" fill="url(#gW)"/>
<circle cx="77.4" cy="58.2" r="1.35" fill="url(#gW)"/>
<circle cx="65" cy="47.6" r="1.35" fill="url(#gW)"/>
<ellipse cx="90.5" cy="25.3" rx="4.4" ry="5.1" fill="url(#gG)"/>
<ellipse cx="81.5" cy="37.7" rx="4.4" ry="5.0" fill="url(#gG)"/>
<line x1="52.8" y1="148.9" x2="56.5" y2="161.7" stroke="#6e6e6e" stroke-width="3.6" stroke-linecap="round"/>
<line x1="50.8" y1="142.5" x2="52.8" y2="148.9" stroke="#858585" stroke-width="1.9" stroke-linecap="round"/>
<line x1="33.6" y1="133.8" x2="34" y2="129.8" stroke="#c8c8c8" stroke-width="1.5" stroke-linecap="round"/>
<line x1="35.3" y1="143.6" x2="36.7" y2="147.2" stroke="#c8c8c8" stroke-width="1.5" stroke-linecap="round"/>
<line x1="43.4" y1="128.9" x2="43.8" y2="124.9" stroke="#c8c8c8" stroke-width="1.5" stroke-linecap="round"/>
<line x1="51.8" y1="133.8" x2="55.4" y2="134.3" stroke="#c8c8c8" stroke-width="1.5" stroke-linecap="round"/>
<line x1="54.5" y1="119.6" x2="51" y2="114" stroke="#c8c8c8" stroke-width="1.5" stroke-linecap="round"/>
<line x1="54.5" y1="119.6" x2="58.4" y2="112" stroke="#c8c8c8" stroke-width="1.5" stroke-linecap="round"/>
<line x1="54.5" y1="119.6" x2="51.7" y2="117.4" stroke="#c8c8c8" stroke-width="1.5" stroke-linecap="round"/>
<line x1="67.1" y1="124" x2="66.4" y2="120" stroke="#c8c8c8" stroke-width="1.5" stroke-linecap="round"/>
<line x1="73.1" y1="128" x2="76.4" y2="126" stroke="#c8c8c8" stroke-width="1.5" stroke-linecap="round"/>
<line x1="68.4" y1="139.4" x2="69.7" y2="143.4" stroke="#c8c8c8" stroke-width="1.5" stroke-linecap="round"/>
<line x1="62.4" y1="135.4" x2="59.7" y2="136.7" stroke="#c8c8c8" stroke-width="1.5" stroke-linecap="round"/>
<line x1="79.8" y1="139.4" x2="80" y2="143.4" stroke="#c8c8c8" stroke-width="1.5" stroke-linecap="round"/>
<line x1="38.9" y1="133.8" x2="33.6" y2="133.8" stroke="#3030a0" stroke-width="2.0" stroke-linecap="round"/>
<line x1="40.7" y1="138.7" x2="35.3" y2="143.6" stroke="#3030a0" stroke-width="2.0" stroke-linecap="round"/>
<line x1="73.7" y1="135.4" x2="79.8" y2="139.4" stroke="#3030a0" stroke-width="2.0" stroke-linecap="round"/>
<line x1="50" y1="128.9" x2="55.3" y2="124.2" stroke="#b80000" stroke-width="2.5" stroke-linecap="round"/>
<line x1="55.3" y1="124.2" x2="54.5" y2="119.6" stroke="#b80000" stroke-width="2.5" stroke-linecap="round"/>
<line x1="55.3" y1="124.2" x2="62.4" y2="126.7" stroke="#b80000" stroke-width="2.5" stroke-linecap="round"/>
<line x1="46.9" y1="139.2" x2="50.8" y2="142.5" stroke="#b80000" stroke-width="2.5" stroke-linecap="round"/>
<line x1="51.8" y1="133.8" x2="50.8" y2="142.5" stroke="#b80000" stroke-width="2.5" stroke-linecap="round"/>
<path d="M38.9,133.8 L43.4,128.9 L50,128.9 L51.8,133.8 L46.9,139.2 L40.7,138.7 Z" fill="none" stroke="#b80000" stroke-width="2.6" stroke-linejoin="round"/>
<path d="M62.4,126.7 L67.1,124 L73.1,128 L73.7,135.4 L68.4,139.4 L62.4,135.4 Z" fill="none" stroke="#b80000" stroke-width="2.6" stroke-linejoin="round"/>
<circle cx="38.9" cy="133.8" r="2.15" fill="url(#gR)"/>
<circle cx="43.4" cy="128.9" r="2.15" fill="url(#gR)"/>
<circle cx="50" cy="128.9" r="2.15" fill="url(#gR)"/>
<circle cx="51.8" cy="133.8" r="2.15" fill="url(#gR)"/>
<circle cx="46.9" cy="139.2" r="2.15" fill="url(#gR)"/>
<circle cx="40.7" cy="138.7" r="2.15" fill="url(#gR)"/>
<circle cx="62.4" cy="126.7" r="2.15" fill="url(#gR)"/>
<circle cx="67.1" cy="124" r="2.15" fill="url(#gR)"/>
<circle cx="73.1" cy="128" r="2.15" fill="url(#gR)"/>
<circle cx="73.7" cy="135.4" r="2.15" fill="url(#gR)"/>
<circle cx="68.4" cy="139.4" r="2.15" fill="url(#gR)"/>
<circle cx="62.4" cy="135.4" r="2.15" fill="url(#gR)"/>
<circle cx="55.3" cy="124.2" r="2.15" fill="url(#gR)"/>
<circle cx="54.5" cy="119.6" r="2.15" fill="url(#gR)"/>
<circle cx="33.6" cy="133.8" r="2.3" fill="url(#gB)"/>
<circle cx="35.3" cy="143.6" r="2.3" fill="url(#gB)"/>
<circle cx="79.8" cy="139.4" r="2.3" fill="url(#gB)"/>
<circle cx="34" cy="129.8" r="1.35" fill="url(#gW)"/>
<circle cx="36.7" cy="147.2" r="1.35" fill="url(#gW)"/>
<circle cx="43.8" cy="124.9" r="1.35" fill="url(#gW)"/>
<circle cx="55.4" cy="134.3" r="1.35" fill="url(#gW)"/>
<circle cx="51" cy="114" r="1.35" fill="url(#gW)"/>
<circle cx="58.4" cy="112" r="1.35" fill="url(#gW)"/>
<circle cx="51.7" cy="117.4" r="1.35" fill="url(#gW)"/>
<circle cx="66.4" cy="120" r="1.35" fill="url(#gW)"/>
<circle cx="76.4" cy="126" r="1.35" fill="url(#gW)"/>
<circle cx="69.7" cy="143.4" r="1.35" fill="url(#gW)"/>
<circle cx="59.7" cy="136.7" r="1.35" fill="url(#gW)"/>
<circle cx="80" cy="143.4" r="1.35" fill="url(#gW)"/>
<ellipse cx="52.8" cy="148.9" rx="3.7" ry="4.6" fill="url(#gG)"/>
<ellipse cx="56.5" cy="161.7" rx="3.6" ry="4.6" fill="url(#gG)"/>
<line x1="81.7" y1="238.3" x2="92.5" y2="242.5" stroke="#6e6e6e" stroke-width="3.6" stroke-linecap="round"/>
<line x1="73.4" y1="229.7" x2="77.55000000000001" y2="234.0" stroke="#1a1a90" stroke-width="1.9" stroke-linecap="round"/>
<line x1="77.55000000000001" y1="234.0" x2="81.7" y2="238.3" stroke="#858585" stroke-width="1.9" stroke-linecap="round"/>
<line x1="72.2" y1="239.1" x2="76.95" y2="238.7" stroke="#1a1a90" stroke-width="1.9" stroke-linecap="round"/>
<line x1="76.95" y1="238.7" x2="81.7" y2="238.3" stroke="#858585" stroke-width="1.9" stroke-linecap="round"/>
<line x1="41.7" y1="223.3" x2="41.7" y2="218.7" stroke="#c8c8c8" stroke-width="1.5" stroke-linecap="round"/>
<line x1="36.5" y1="227.3" x2="33.2" y2="225.3" stroke="#c8c8c8" stroke-width="1.5" stroke-linecap="round"/>
<line x1="32.6" y1="236.4" x2="32.6" y2="240.3" stroke="#c8c8c8" stroke-width="1.5" stroke-linecap="round"/>
<line x1="42.4" y1="236.4" x2="43.1" y2="239.7" stroke="#c8c8c8" stroke-width="1.5" stroke-linecap="round"/>
<line x1="52.9" y1="221.4" x2="52.2" y2="231.8" stroke="#c8c8c8" stroke-width="1.5" stroke-linecap="round"/>
<line x1="63.6" y1="224.8" x2="64.4" y2="221.1" stroke="#c8c8c8" stroke-width="1.5" stroke-linecap="round"/>
<line x1="73.4" y1="229.7" x2="74.2" y2="225.6" stroke="#c8c8c8" stroke-width="1.5" stroke-linecap="round"/>
<line x1="61.5" y1="236.7" x2="60.7" y2="239.1" stroke="#c8c8c8" stroke-width="1.5" stroke-linecap="round"/>
<line x1="72.2" y1="239.1" x2="71" y2="242.8" stroke="#c8c8c8" stroke-width="1.5" stroke-linecap="round"/>
<line x1="54.2" y1="214.8" x2="49.6" y2="210.9" stroke="#c8c8c8" stroke-width="1.5" stroke-linecap="round"/>
<line x1="54.2" y1="214.8" x2="57.5" y2="211.5" stroke="#c8c8c8" stroke-width="1.5" stroke-linecap="round"/>
<line x1="36.5" y1="233.1" x2="32.6" y2="236.4" stroke="#3030a0" stroke-width="2.0" stroke-linecap="round"/>
<line x1="68.1" y1="229.7" x2="73.4" y2="229.7" stroke="#3030a0" stroke-width="2.0" stroke-linecap="round"/>
<line x1="67.3" y1="235" x2="72.2" y2="239.1" stroke="#3030a0" stroke-width="2.0" stroke-linecap="round"/>
<line x1="47" y1="226.6" x2="52.9" y2="221.4" stroke="#b80000" stroke-width="2.5" stroke-linecap="round"/>
<line x1="52.9" y1="221.4" x2="54.2" y2="214.8" stroke="#b80000" stroke-width="2.5" stroke-linecap="round"/>
<line x1="52.9" y1="221.4" x2="57.9" y2="225.6" stroke="#b80000" stroke-width="2.5" stroke-linecap="round"/>
<path d="M41.7,223.3 L47,226.6 L47.6,232.5 L42.4,236.4 L36.5,233.1 L36.5,227.3 Z" fill="none" stroke="#b80000" stroke-width="2.6" stroke-linejoin="round"/>
<path d="M57.9,225.6 L63.6,224.8 L68.1,229.7 L67.3,235 L61.5,236.7 L57,231.4 Z" fill="none" stroke="#b80000" stroke-width="2.6" stroke-linejoin="round"/>
<circle cx="41.7" cy="223.3" r="2.15" fill="url(#gR)"/>
<circle cx="47" cy="226.6" r="2.15" fill="url(#gR)"/>
<circle cx="47.6" cy="232.5" r="2.15" fill="url(#gR)"/>
<circle cx="42.4" cy="236.4" r="2.15" fill="url(#gR)"/>
<circle cx="36.5" cy="233.1" r="2.15" fill="url(#gR)"/>
<circle cx="36.5" cy="227.3" r="2.15" fill="url(#gR)"/>
<circle cx="57.9" cy="225.6" r="2.15" fill="url(#gR)"/>
<circle cx="63.6" cy="224.8" r="2.15" fill="url(#gR)"/>
<circle cx="68.1" cy="229.7" r="2.15" fill="url(#gR)"/>
<circle cx="67.3" cy="235" r="2.15" fill="url(#gR)"/>
<circle cx="61.5" cy="236.7" r="2.15" fill="url(#gR)"/>
<circle cx="57" cy="231.4" r="2.15" fill="url(#gR)"/>
<circle cx="52.9" cy="221.4" r="2.15" fill="url(#gR)"/>
<circle cx="54.2" cy="214.8" r="2.15" fill="url(#gR)"/>
<circle cx="32.6" cy="236.4" r="2.3" fill="url(#gB)"/>
<circle cx="73.4" cy="229.7" r="2.3" fill="url(#gB)"/>
<circle cx="72.2" cy="239.1" r="2.3" fill="url(#gB)"/>
<circle cx="41.7" cy="218.7" r="1.35" fill="url(#gW)"/>
<circle cx="33.2" cy="225.3" r="1.35" fill="url(#gW)"/>
<circle cx="32.6" cy="240.3" r="1.35" fill="url(#gW)"/>
<circle cx="43.1" cy="239.7" r="1.35" fill="url(#gW)"/>
<circle cx="52.2" cy="231.8" r="1.35" fill="url(#gW)"/>
<circle cx="64.4" cy="221.1" r="1.35" fill="url(#gW)"/>
<circle cx="74.2" cy="225.6" r="1.35" fill="url(#gW)"/>
<circle cx="60.7" cy="239.1" r="1.35" fill="url(#gW)"/>
<circle cx="71" cy="242.8" r="1.35" fill="url(#gW)"/>
<circle cx="49.6" cy="210.9" r="1.35" fill="url(#gW)"/>
<circle cx="57.5" cy="211.5" r="1.35" fill="url(#gW)"/>
<ellipse cx="81.7" cy="238.3" rx="3.0" ry="4.2" fill="url(#gG)"/>
<ellipse cx="92.5" cy="242.5" rx="3.1" ry="4.2" fill="url(#gG)"/>
<g font-family="Liberation Sans, Arial, sans-serif" font-size="10.1" fill="#111" stroke="#111" stroke-width="0.25">
<text x="40.40" y="396.0" text-anchor="middle">400</text>
<text x="71.82" y="396.0" text-anchor="middle">600</text>
<text x="103.24" y="396.0" text-anchor="middle">800</text>
<text x="134.66" y="396.0" text-anchor="middle">1000</text>
<text x="166.08" y="396.0" text-anchor="middle">1200</text>
<text x="197.50" y="396.0" text-anchor="middle">1400</text>
<text x="228.92" y="396.0" text-anchor="middle">1600</text>
<text x="260.34" y="396.0" text-anchor="middle">1800</text>
<text x="311.00" y="394.5" text-anchor="middle">400</text>
<text x="342.96" y="394.5" text-anchor="middle">600</text>
<text x="374.92" y="394.5" text-anchor="middle">800</text>
<text x="406.88" y="394.5" text-anchor="middle">1000</text>
<text x="438.84" y="394.5" text-anchor="middle">1200</text>
<text x="470.80" y="394.5" text-anchor="middle">1400</text>
<text x="502.76" y="394.5" text-anchor="middle">1600</text>
<text x="534.72" y="394.5" text-anchor="middle">1800</text>
</g>
<g font-family="Liberation Sans, Arial, sans-serif" font-size="13.6" fill="#111" stroke="#111" stroke-width="0.2">
<text x="92.4" y="413.8" font-size="14">Wavenumber / cm<tspan font-size="8" dy="-6">-1</tspan></text>
<text x="355.5" y="411.6" font-size="14">Wavenumber / cm<tspan font-size="8" dy="-6">-1</tspan></text>
<text font-size="13.55" transform="translate(15.0,275.1) rotate(-90)">Relative Intensity / arb. unit</text>
<text font-size="13.63" transform="translate(283,277.9) rotate(-90)">Relative Intensity / arb. unit</text>
<text x="138.5" y="21.4" font-size="13.5">Ordinary Raman</text>
<text x="384.6" y="21.2" font-size="13.7">S<tspan font-size="8.3" dy="4.6">0</tspan><tspan dy="-4.6">-S</tspan><tspan font-size="8.3" dy="4.6">1</tspan><tspan dy="-4.6">(PL</tspan><tspan font-size="8.3" dy="4.6">0</tspan><tspan dy="-4.6">)</tspan></text>
</g>
<g font-family="Liberation Sans, Arial, sans-serif" font-size="13.6" fill="#0f8c12" stroke="#0f8c12" stroke-width="0.2" text-anchor="middle">
<text x="202.3" y="310.7">Experimental</text>
<text x="201.35" y="322.4">0.0 V</text>
<text x="482.3" y="313.1">Experimental</text>
<text x="481.75" y="324.7">0.0 V</text>
</g>
<g font-family="Liberation Sans, Arial, sans-serif" font-size="18.3" font-weight="bold" fill="#111" stroke="#111" stroke-width="0.4" text-anchor="middle">
<text transform="translate(138.4,435.6) scale(0.87,1)">(a)</text>
<text transform="translate(415.5,440.5) scale(0.87,1)">(b)</text>
</g>
</svg>
</body></html>
